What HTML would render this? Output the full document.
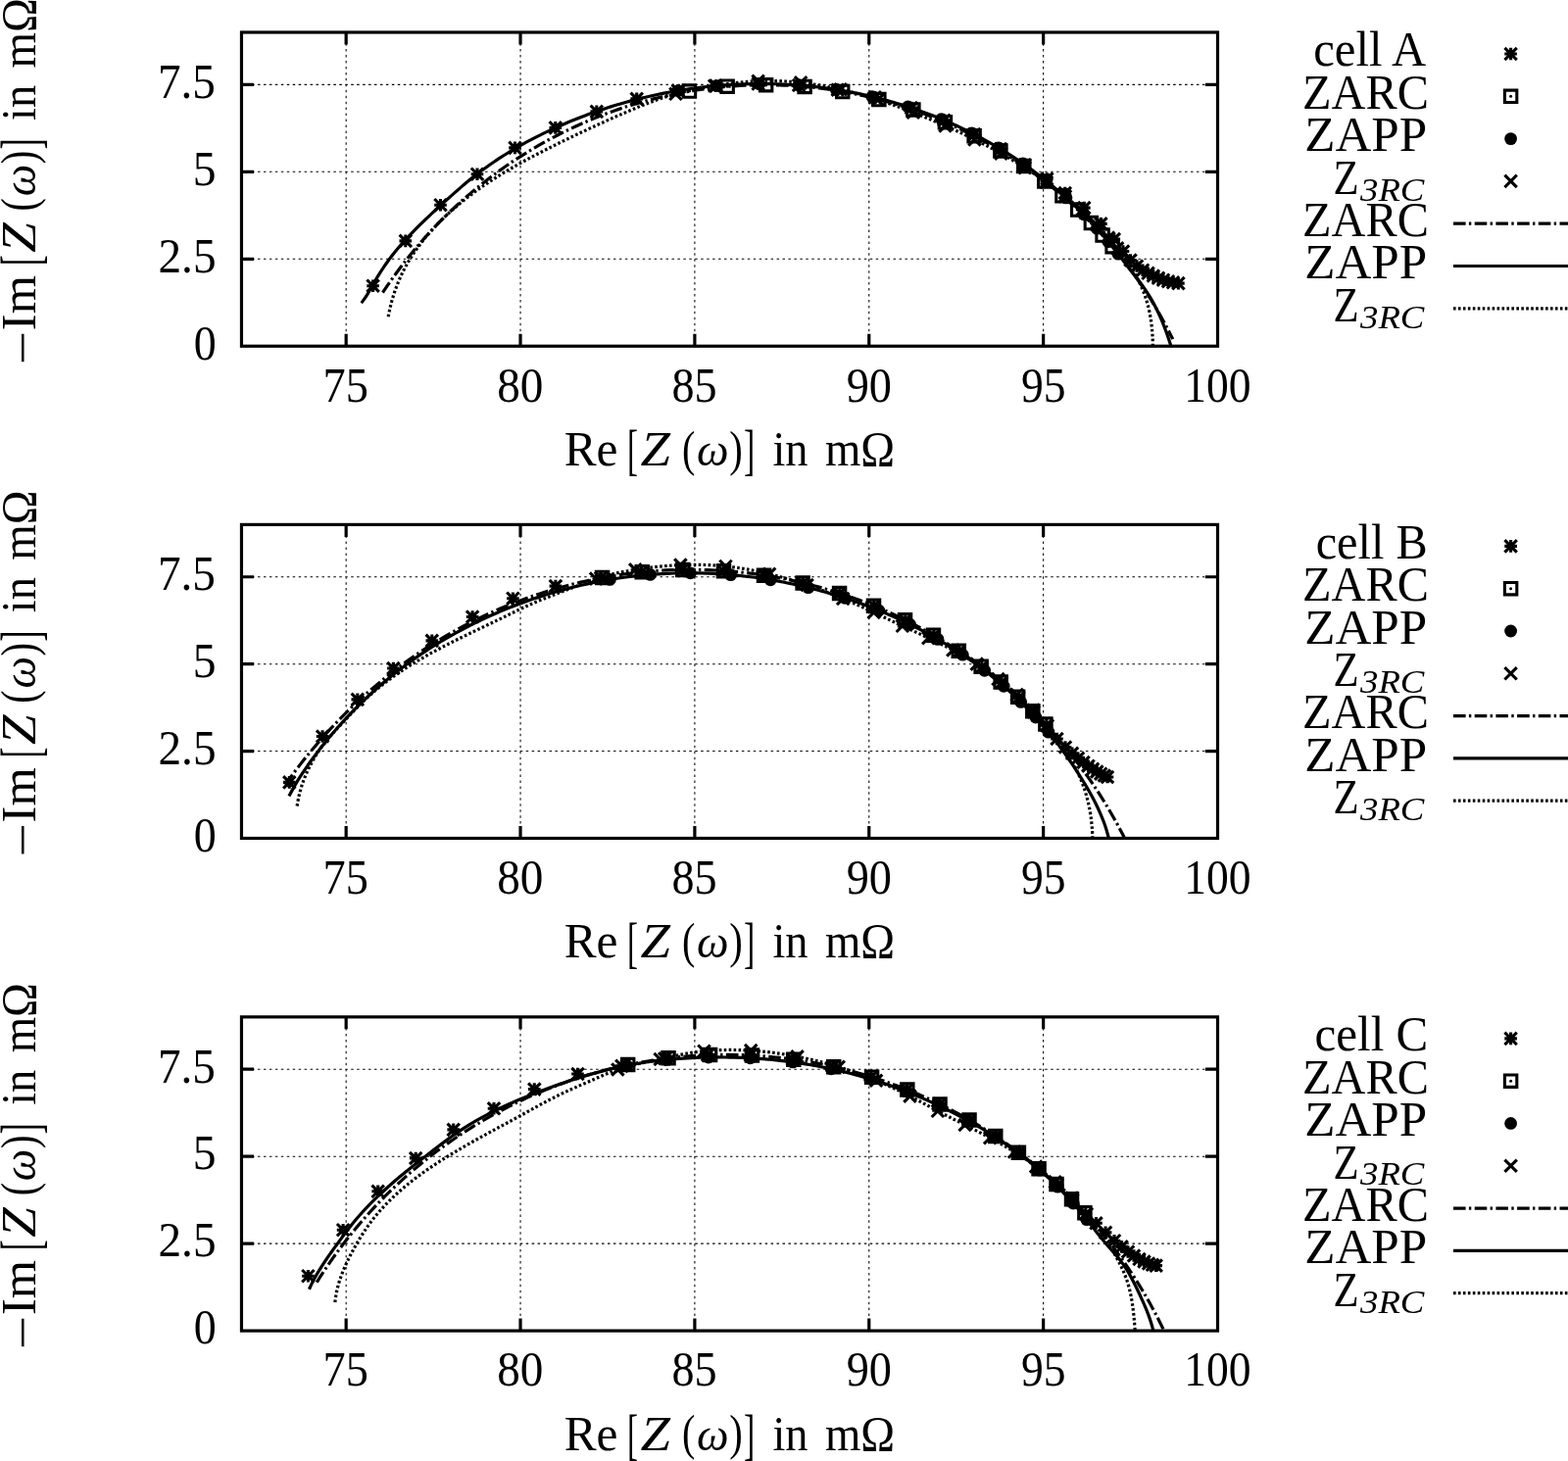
<!DOCTYPE html>
<html lang="en"><head><meta charset="utf-8"><title>Nyquist plots: cells A, B, C</title>
<style>html,body{margin:0;padding:0;background:#fff}body{width:1600px;height:1491px;overflow:hidden}svg{display:block}text{font-family:"Liberation Serif","DejaVu Serif",serif;fill:#000}.i{font-style:italic}.g{stroke:#000;stroke-width:1.05;stroke-dasharray:2.5 3.45;fill:none}.l{stroke:#000;stroke-width:3.2;fill:none}.m{stroke:#000;stroke-width:3.1;fill:none}.dd{stroke-dasharray:12.6 3.3 2.4 3.4}.dt{stroke-dasharray:2.6 2.35}</style></head><body>
<svg width="1600" height="1491" viewBox="0 0 1600 1491" role="img" aria-label="Nyquist plots of cell A, cell B and cell C with ZARC, ZAPP and Z3RC model fits">
<rect width="1600" height="1491" fill="#fff"/>
<g id="panelA">
<path class="g" d="M353.17 32.25V353.25M531.04 32.25V353.25M708.9 32.25V353.25M886.77 32.25V353.25M1064.63 32.25V353.25M245.15 264.29H1242.5M245.15 175.33H1242.5M245.15 86.38H1242.5"/>
<path class="l" d="M353.17 353.25v-12.5M353.17 33v12.5M531.04 353.25v-12.5M531.04 33v12.5M708.9 353.25v-12.5M708.9 33v12.5M886.77 353.25v-12.5M886.77 33v12.5M1064.63 353.25v-12.5M1064.63 33v12.5M246.45 264.29h12.6M1242.5 264.29h-12.6M246.45 175.33h12.6M1242.5 175.33h-12.6M246.45 86.38h12.6M1242.5 86.38h-12.6"/>
<path class="m" d="M374.4 285.5l12.4 12.4M374.4 297.9l12.4 -12.4M374.3 291.7h12.6M380.6 285.4v12.6M407.6 239.7l12.4 12.4M407.6 252.1l12.4 -12.4M407.5 245.9h12.6M413.8 239.6v12.6M443.3 203l12.4 12.4M443.3 215.4l12.4 -12.4M443.2 209.2h12.6M449.5 202.9v12.6M480.8 171.5l12.4 12.4M480.8 183.9l12.4 -12.4M480.7 177.7h12.6M487 171.4v12.6M519.3 144.7l12.4 12.4M519.3 157.1l12.4 -12.4M519.2 150.9h12.6M525.5 144.6v12.6M560.6 124.2l12.4 12.4M560.6 136.6l12.4 -12.4M560.5 130.4h12.6M566.8 124.1v12.6M602.6 107.7l12.4 12.4M602.6 120.1l12.4 -12.4M602.5 113.9h12.6M608.8 107.6v12.6M643.5 94.7l12.4 12.4M643.5 107.1l12.4 -12.4M643.4 100.9h12.6M649.7 94.6v12.6M685.63 86.35l12.4 12.4M685.63 98.75l12.4 -12.4M685.53 92.55h12.6M691.83 86.25v12.6M724.45 81.39l12.4 12.4M724.45 93.79l12.4 -12.4M724.35 87.59h12.6M730.65 81.29v12.6M767.42 79.33l12.4 12.4M767.42 91.73l12.4 -12.4M767.32 85.53h12.6M773.62 79.23v12.6M808.87 80.81l12.4 12.4M808.87 93.21l12.4 -12.4M808.77 87.01h12.6M815.07 80.71v12.6M848.51 85.51l12.4 12.4M848.51 97.91l12.4 -12.4M848.41 91.71h12.6M854.71 85.41v12.6M886.65 93.21l12.4 12.4M886.65 105.61l12.4 -12.4M886.55 99.41h12.6M892.85 93.11v12.6M923.69 103.9l12.4 12.4M923.69 116.3l12.4 -12.4M923.59 110.1h12.6M929.89 103.8v12.6M957.21 116.56l12.4 12.4M957.21 128.96l12.4 -12.4M957.11 122.76h12.6M963.41 116.46v12.6M987.92 130.9l12.4 12.4M987.92 143.3l12.4 -12.4M987.82 137.1h12.6M994.12 130.8v12.6M1014.69 145.86l12.4 12.4M1014.69 158.26l12.4 -12.4M1014.59 152.06h12.6M1020.89 145.76v12.6M1039.55 162.05l12.4 12.4M1039.55 174.45l12.4 -12.4M1039.45 168.25h12.6M1045.75 161.95v12.6M1062.1 176.45l12.4 12.4M1062.1 188.85l12.4 -12.4M1062 182.65h12.6M1068.3 176.35v12.6M1080.58 190.79l12.4 12.4M1080.58 203.19l12.4 -12.4M1080.48 196.99h12.6M1086.78 190.69v12.6M1100.1 205.9l12.4 12.4M1100.1 218.3l12.4 -12.4M1100 212.1h12.6M1106.3 205.8v12.6M1117.2 222.2l12.4 12.4M1117.2 234.6l12.4 -12.4M1117.1 228.4h12.6M1123.4 222.1v12.6M1130.6 237.8l12.4 12.4M1130.6 250.2l12.4 -12.4M1130.5 244h12.6M1136.8 237.7v12.6M1139.8 250.3l12.4 12.4M1139.8 262.7l12.4 -12.4M1139.7 256.5h12.6M1146 250.2v12.6M1147.3 259.3l12.4 12.4M1147.3 271.7l12.4 -12.4M1147.2 265.5h12.6M1153.5 259.2v12.6M1153.8 265.3l12.4 12.4M1153.8 277.7l12.4 -12.4M1153.7 271.5h12.6M1160 265.2v12.6M1159.8 269.5l12.4 12.4M1159.8 281.9l12.4 -12.4M1159.7 275.7h12.6M1166 269.4v12.6M1165.3 272.6l12.4 12.4M1165.3 285l12.4 -12.4M1165.2 278.8h12.6M1171.5 272.5v12.6M1170.6 275.3l12.4 12.4M1170.6 287.7l12.4 -12.4M1170.5 281.5h12.6M1176.8 275.2v12.6M1175.8 277.6l12.4 12.4M1175.8 290l12.4 -12.4M1175.7 283.8h12.6M1182 277.5v12.6M1180.8 279.5l12.4 12.4M1180.8 291.9l12.4 -12.4M1180.7 285.7h12.6M1187 279.4v12.6M1185.8 281l12.4 12.4M1185.8 293.4l12.4 -12.4M1185.7 287.2h12.6M1192 280.9v12.6M1190.8 282.1l12.4 12.4M1190.8 294.5l12.4 -12.4M1190.7 288.3h12.6M1197 282v12.6M1196.2 282.9l12.4 12.4M1196.2 295.3l12.4 -12.4M1196.1 289.1h12.6M1202.4 282.8v12.6"/>
<path class="m" d="M697.23 86.84h12.4v12.4h-12.4zM735.95 82.01h12.4v12.4h-12.4zM775.42 80.44h12.4v12.4h-12.4zM814.87 82.24h12.4v12.4h-12.4zM853.51 87.29h12.4v12.4h-12.4zM890.65 95.33h12.4v12.4h-12.4zM925.69 105.92h12.4v12.4h-12.4zM958.21 118.55h12.4v12.4h-12.4zM987.92 132.66h12.4v12.4h-12.4zM1014.69 147.72h12.4v12.4h-12.4zM1038.55 163.21h12.4v12.4h-12.4zM1059.6 178.71h12.4v12.4h-12.4zM1077.78 193.57h12.4v12.4h-12.4zM1093.55 207.83h12.4v12.4h-12.4zM1107.17 221.31h12.4v12.4h-12.4zM1118.88 233.88h12.4v12.4h-12.4zM1128.92 245.48h12.4v12.4h-12.4z"/>
<g><circle cx="703.43" cy="93.04" r="1.5"/><circle cx="742.15" cy="88.21" r="1.5"/><circle cx="781.62" cy="86.64" r="1.5"/><circle cx="821.07" cy="88.44" r="1.5"/><circle cx="859.71" cy="93.49" r="1.5"/><circle cx="896.85" cy="101.53" r="1.5"/><circle cx="931.89" cy="112.12" r="1.5"/><circle cx="964.41" cy="124.75" r="1.5"/><circle cx="994.12" cy="138.86" r="1.5"/><circle cx="1020.89" cy="153.92" r="1.5"/><circle cx="1044.75" cy="169.41" r="1.5"/><circle cx="1065.8" cy="184.91" r="1.5"/><circle cx="1083.98" cy="199.77" r="1.5"/><circle cx="1099.75" cy="214.03" r="1.5"/><circle cx="1113.37" cy="227.51" r="1.5"/><circle cx="1125.08" cy="240.08" r="1.5"/><circle cx="1135.12" cy="251.68" r="1.5"/></g>
<g><circle cx="691.83" cy="92.55" r="6.4"/><circle cx="731.15" cy="87.54" r="6.4"/><circle cx="774.62" cy="85.53" r="6.4"/><circle cx="815.07" cy="87.01" r="6.4"/><circle cx="853.31" cy="91.49" r="6.4"/><circle cx="889.95" cy="98.71" r="6.4"/><circle cx="926.49" cy="108.98" r="6.4"/><circle cx="960.66" cy="121.6" r="6.4"/><circle cx="991.52" cy="135.79" r="6.4"/><circle cx="1018.89" cy="150.86" r="6.4"/><circle cx="1043.75" cy="166.84" r="6.4"/><circle cx="1067.8" cy="184.75" r="6.4"/><circle cx="1087.98" cy="201.85" r="6.4"/><circle cx="1105.75" cy="218.81" r="6.4"/><circle cx="1119.37" cy="233.21" r="6.4"/><circle cx="1131.08" cy="246.7" r="6.4"/><circle cx="1141.12" cy="259.22" r="6.4"/></g>
<path class="m" d="M683.23 89.61l12.4 12.4M683.23 102.01l12.4 -12.4M722.95 81.39l12.4 12.4M722.95 93.79l12.4 -12.4M767.42 76.57l12.4 12.4M767.42 88.97l12.4 -12.4M810.87 78.13l12.4 12.4M810.87 90.53l12.4 -12.4M851.51 85.08l12.4 12.4M851.51 97.48l12.4 -12.4M889.65 95.66l12.4 12.4M889.65 108.06l12.4 -12.4M925.69 108.58l12.4 12.4M925.69 120.98l12.4 -12.4M958.38 122.15l12.4 12.4M958.38 134.55l12.4 -12.4M988.25 136.16l12.4 12.4M988.25 148.56l12.4 -12.4M1015.19 150.42l12.4 12.4M1015.19 162.82l12.4 -12.4M1039.55 164.93l12.4 12.4M1039.55 177.33l12.4 -12.4M1061.6 179.71l12.4 12.4M1061.6 192.11l12.4 -12.4M1080.78 194.22l12.4 12.4M1080.78 206.62l12.4 -12.4M1097.55 208.52l12.4 12.4M1097.55 220.92l12.4 -12.4M1112.17 222.55l12.4 12.4M1112.17 234.95l12.4 -12.4M1124.88 236.31l12.4 12.4M1124.88 248.71l12.4 -12.4M1133.92 247.19l12.4 12.4M1133.92 259.59l12.4 -12.4"/>
<path class="l" stroke-dasharray="12.51 3.28 2.38 3.38" d="M390.51 298.7C391.26 297.58 393.49 294.2 395 291.97C396.52 289.73 398.06 287.51 399.61 285.31C401.17 283.1 402.74 280.91 404.33 278.73C405.92 276.55 407.53 274.39 409.16 272.23C410.79 270.08 412.44 267.95 414.1 265.82C415.77 263.7 417.45 261.59 419.15 259.5C420.85 257.41 422.57 255.33 424.31 253.26C426.05 251.2 427.8 249.15 429.57 247.11C431.35 245.08 433.14 243.06 434.94 241.06C436.75 239.06 438.57 237.07 440.41 235.1C442.25 233.13 444.11 231.17 445.98 229.23C447.86 227.29 449.75 225.37 451.66 223.46C453.56 221.55 455.49 219.66 457.43 217.79C459.37 215.92 461.32 214.06 463.29 212.22C465.27 210.38 467.25 208.55 469.26 206.75C471.26 204.94 473.28 203.15 475.31 201.38C477.34 199.61 479.39 197.86 481.46 196.12C483.52 194.39 485.6 192.67 487.69 190.97C489.79 189.27 491.89 187.59 494.02 185.92C496.14 184.26 498.28 182.62 500.43 180.99C502.58 179.36 504.74 177.76 506.92 176.17C509.1 174.58 511.29 173.01 513.5 171.46C515.7 169.9 517.92 168.37 520.15 166.86C522.38 165.35 524.63 163.85 526.89 162.38C529.15 160.91 531.42 159.45 533.7 158.02C535.98 156.58 538.28 155.17 540.59 153.77C542.89 152.38 545.21 151 547.54 149.65C549.88 148.29 552.22 146.96 554.57 145.64C556.93 144.33 559.29 143.03 561.67 141.76C564.05 140.49 566.44 139.23 568.84 138C571.23 136.77 573.64 135.56 576.06 134.37C578.48 133.18 580.91 132.01 583.35 130.86C585.79 129.71 588.24 128.59 590.7 127.48C593.16 126.38 595.63 125.29 598.11 124.23C600.59 123.17 603.08 122.13 605.58 121.11C608.07 120.09 610.58 119.09 613.09 118.12C615.61 117.14 618.13 116.19 620.66 115.25C623.19 114.32 625.73 113.41 628.28 112.52C630.82 111.64 633.38 110.77 635.94 109.93C638.5 109.08 641.07 108.26 643.65 107.47C646.23 106.67 648.81 105.89 651.4 105.14C653.99 104.38 656.59 103.65 659.19 102.94C661.79 102.24 664.4 101.55 667.02 100.89C669.63 100.23 672.25 99.59 674.88 98.97C677.5 98.35 680.13 97.76 682.77 97.19C685.41 96.62 688.05 96.07 690.7 95.54C693.34 95.02 695.99 94.52 698.65 94.04C701.3 93.56 703.96 93.1 706.62 92.67C709.29 92.24 711.95 91.83 714.62 91.45C717.29 91.06 719.97 90.7 722.65 90.36C725.32 90.02 728 89.71 730.68 89.41C733.37 89.12 736.05 88.85 738.74 88.61C741.42 88.37 744.11 88.14 746.8 87.95C749.5 87.75 752.19 87.57 754.88 87.42C757.58 87.27 760.27 87.15 762.97 87.04C765.66 86.94 768.36 86.86 771.06 86.8C773.76 86.75 776.46 86.71 779.15 86.7C781.85 86.69 784.55 86.71 787.25 86.75C789.95 86.78 792.64 86.85 795.34 86.93C798.04 87.02 800.74 87.12 803.43 87.26C806.13 87.39 808.82 87.54 811.51 87.72C814.21 87.9 816.9 88.11 819.59 88.33C822.27 88.56 824.96 88.81 827.65 89.08C830.33 89.36 833.01 89.65 835.69 89.97C838.37 90.29 841.05 90.64 843.72 91C846.4 91.37 849.07 91.76 851.73 92.18C854.4 92.59 857.06 93.03 859.72 93.49C862.38 93.95 865.04 94.43 867.69 94.94C870.34 95.44 872.99 95.97 875.63 96.53C878.27 97.08 880.91 97.66 883.54 98.26C886.17 98.85 888.8 99.48 891.42 100.12C894.04 100.77 896.65 101.44 899.26 102.13C901.87 102.82 904.47 103.53 907.07 104.27C909.67 105 912.26 105.76 914.84 106.54C917.42 107.32 920 108.13 922.57 108.96C925.14 109.78 927.7 110.63 930.25 111.5C932.81 112.37 935.36 113.27 937.9 114.18C940.43 115.1 942.96 116.04 945.49 117C948.01 117.96 950.52 118.94 953.03 119.94C955.53 120.95 958.03 121.98 960.52 123.02C963.01 124.07 965.48 125.14 967.95 126.23C970.42 127.32 972.88 128.44 975.33 129.57C977.78 130.7 980.22 131.86 982.65 133.04C985.08 134.21 987.5 135.41 989.9 136.63C992.31 137.85 994.71 139.09 997.1 140.35C999.48 141.61 1001.86 142.89 1004.22 144.19C1006.59 145.5 1008.94 146.82 1011.28 148.16C1013.62 149.51 1015.95 150.87 1018.27 152.25C1020.58 153.64 1022.89 155.04 1025.18 156.47C1027.48 157.89 1029.76 159.34 1032.02 160.8C1034.29 162.27 1036.54 163.75 1038.79 165.25C1041.03 166.76 1043.26 168.28 1045.47 169.82C1047.69 171.37 1049.89 172.93 1052.07 174.51C1054.26 176.09 1056.44 177.69 1058.59 179.31C1060.75 180.93 1062.9 182.57 1065.03 184.22C1067.16 185.88 1069.28 187.56 1071.38 189.25C1073.48 190.94 1075.57 192.66 1077.64 194.39C1079.71 196.12 1081.77 197.86 1083.81 199.63C1085.85 201.4 1087.88 203.18 1089.89 204.98C1091.9 206.78 1093.89 208.6 1095.87 210.44C1097.85 212.27 1099.81 214.13 1101.75 216C1103.7 217.87 1105.63 219.76 1107.54 221.66C1109.46 223.56 1111.35 225.49 1113.23 227.42C1115.11 229.36 1116.97 231.31 1118.82 233.28C1120.66 235.25 1122.49 237.24 1124.3 239.24C1126.11 241.24 1127.9 243.26 1129.68 245.29C1131.45 247.33 1133.21 249.38 1134.95 251.44C1136.69 253.5 1138.41 255.58 1140.11 257.68C1141.82 259.77 1143.5 261.88 1145.17 264C1146.83 266.12 1148.48 268.26 1150.11 270.41C1151.74 272.57 1153.35 274.73 1154.94 276.91C1156.53 279.09 1158.1 281.29 1159.66 283.49C1161.21 285.7 1162.74 287.92 1164.25 290.16C1165.77 292.39 1167.26 294.64 1168.74 296.9C1170.21 299.16 1171.67 301.43 1173.1 303.72C1174.54 306 1175.95 308.3 1177.35 310.61C1178.74 312.92 1180.11 315.25 1181.47 317.58C1182.82 319.91 1184.16 322.26 1185.47 324.62C1186.78 326.98 1188.07 329.35 1189.35 331.73C1190.62 334.11 1191.87 336.5 1193.1 338.9C1194.33 341.3 1196.12 344.93 1196.72 346.14"/>
<path class="l" d="M368.74 309.23C369.56 308.1 372.15 304.79 373.67 302.47C375.19 300.14 376.48 297.68 377.86 295.27C379.24 292.86 380.54 290.4 381.94 287.99C383.33 285.58 384.76 283.19 386.23 280.82C387.69 278.46 389.2 276.11 390.75 273.8C392.29 271.48 393.88 269.19 395.51 266.94C397.14 264.68 398.82 262.46 400.53 260.26C402.24 258.07 404 255.91 405.78 253.77C407.57 251.64 409.39 249.53 411.24 247.45C413.09 245.37 414.97 243.32 416.88 241.29C418.78 239.26 420.71 237.26 422.66 235.27C424.6 233.28 426.57 231.32 428.55 229.38C430.54 227.43 432.54 225.5 434.54 223.59C436.55 221.67 438.58 219.78 440.6 217.89C442.63 215.99 444.67 214.12 446.71 212.25C448.75 210.37 450.79 208.51 452.84 206.65C454.89 204.79 456.94 202.93 459 201.09C461.06 199.24 463.12 197.4 465.2 195.58C467.28 193.76 469.37 191.95 471.47 190.15C473.58 188.36 475.69 186.58 477.83 184.83C479.97 183.08 482.12 181.34 484.29 179.63C486.46 177.92 488.66 176.24 490.87 174.59C493.08 172.93 495.32 171.3 497.57 169.7C499.82 168.1 502.09 166.52 504.38 164.97C506.66 163.43 508.97 161.9 511.29 160.41C513.61 158.91 515.95 157.44 518.3 155.99C520.65 154.55 523.02 153.13 525.4 151.74C527.78 150.34 530.17 148.97 532.58 147.63C534.99 146.28 537.41 144.96 539.84 143.66C542.27 142.37 544.71 141.09 547.16 139.84C549.62 138.59 552.08 137.37 554.56 136.16C557.03 134.96 559.51 133.78 562.01 132.62C564.5 131.46 567 130.32 569.51 129.2C572.02 128.09 574.54 126.99 577.06 125.92C579.59 124.84 582.12 123.79 584.66 122.76C587.2 121.73 589.75 120.72 592.31 119.73C594.86 118.74 597.43 117.77 600 116.82C602.57 115.88 605.14 114.95 607.72 114.05C610.31 113.15 612.9 112.27 615.49 111.41C618.09 110.55 620.69 109.71 623.3 108.89C625.9 108.07 628.52 107.28 631.13 106.5C633.75 105.73 636.38 104.98 639 104.24C641.63 103.51 644.27 102.8 646.91 102.12C649.54 101.43 652.19 100.76 654.83 100.12C657.48 99.47 660.13 98.85 662.79 98.24C665.45 97.64 668.11 97.06 670.77 96.5C673.43 95.94 676.1 95.4 678.77 94.89C681.44 94.37 684.12 93.88 686.79 93.4C689.47 92.93 692.15 92.48 694.83 92.05C697.52 91.62 700.2 91.21 702.89 90.82C705.58 90.43 708.27 90.06 710.96 89.72C713.66 89.37 716.35 89.05 719.05 88.74C721.75 88.44 724.45 88.16 727.15 87.9C729.85 87.64 732.55 87.4 735.25 87.18C737.96 86.96 740.66 86.77 743.37 86.59C746.07 86.41 748.78 86.26 751.49 86.13C754.19 85.99 756.9 85.88 759.61 85.79C762.32 85.7 765.03 85.64 767.74 85.59C770.45 85.54 773.16 85.52 775.86 85.51C778.57 85.51 781.28 85.53 783.99 85.57C786.7 85.61 789.41 85.67 792.11 85.76C794.82 85.84 797.53 85.95 800.23 86.07C802.94 86.2 805.64 86.35 808.34 86.53C811.05 86.7 813.75 86.89 816.45 87.11C819.14 87.32 821.84 87.56 824.54 87.82C827.23 88.08 829.93 88.37 832.62 88.67C835.31 88.98 837.99 89.31 840.68 89.66C843.36 90.01 846.05 90.38 848.72 90.77C851.4 91.17 854.08 91.59 856.75 92.02C859.42 92.46 862.09 92.93 864.76 93.41C867.42 93.9 870.08 94.4 872.74 94.93C875.39 95.46 878.04 96.01 880.69 96.59C883.34 97.16 885.98 97.76 888.61 98.38C891.25 99 893.88 99.64 896.51 100.31C899.13 100.97 901.75 101.66 904.37 102.37C906.98 103.08 909.59 103.81 912.19 104.57C914.79 105.32 917.39 106.1 919.98 106.9C922.57 107.7 925.15 108.52 927.72 109.37C930.3 110.21 932.86 111.08 935.42 111.97C937.98 112.86 940.54 113.77 943.08 114.71C945.62 115.65 948.16 116.6 950.69 117.58C953.21 118.56 955.73 119.57 958.24 120.59C960.75 121.62 963.25 122.66 965.74 123.73C968.23 124.8 970.71 125.89 973.18 127.01C975.66 128.12 978.12 129.26 980.57 130.41C983.02 131.57 985.46 132.75 987.89 133.96C990.32 135.16 992.74 136.38 995.15 137.63C997.56 138.87 999.96 140.14 1002.34 141.43C1004.73 142.72 1007.1 144.03 1009.46 145.36C1011.82 146.7 1014.17 148.05 1016.51 149.43C1018.84 150.8 1021.17 152.2 1023.48 153.62C1025.79 155.04 1028.09 156.48 1030.37 157.94C1032.66 159.4 1034.93 160.88 1037.18 162.38C1039.44 163.89 1041.68 165.41 1043.91 166.95C1046.14 168.5 1048.36 170.06 1050.56 171.65C1052.76 173.23 1054.94 174.84 1057.11 176.46C1059.28 178.09 1061.44 179.73 1063.57 181.4C1065.71 183.06 1067.84 184.75 1069.95 186.45C1072.05 188.15 1074.15 189.88 1076.22 191.62C1078.3 193.36 1080.36 195.12 1082.4 196.9C1084.44 198.68 1086.47 200.48 1088.48 202.3C1090.49 204.11 1092.48 205.95 1094.45 207.8C1096.43 209.66 1098.38 211.53 1100.32 213.42C1102.26 215.31 1104.18 217.22 1106.09 219.14C1107.99 221.07 1109.88 223.01 1111.74 224.97C1113.61 226.93 1115.46 228.91 1117.29 230.9C1119.12 232.89 1120.93 234.9 1122.72 236.93C1124.51 238.96 1126.29 241 1128.04 243.06C1129.79 245.12 1131.52 247.19 1133.24 249.29C1134.95 251.38 1136.65 253.48 1138.32 255.61C1139.99 257.73 1141.65 259.87 1143.28 262.02C1144.92 264.17 1146.51 266.35 1148.13 268.51C1149.74 270.67 1151.33 272.86 1152.97 275.01C1154.6 277.15 1156.28 279.27 1157.95 281.4C1159.62 283.52 1161.35 285.61 1162.99 287.76C1164.63 289.92 1166.26 292.09 1167.8 294.31C1169.34 296.54 1170.81 298.81 1172.24 301.11C1173.66 303.41 1175.02 305.75 1176.33 308.12C1177.64 310.49 1178.9 312.89 1180.1 315.32C1181.31 317.74 1182.46 320.2 1183.57 322.67C1184.67 325.14 1185.73 327.64 1186.75 330.15C1187.77 332.66 1188.74 335.19 1189.68 337.73C1190.62 340.27 1191.51 342.83 1192.38 345.4C1193.25 347.96 1194.46 351.83 1194.88 353.11"/>
<path class="l dt" d="M396.18 323.29C396.46 321.94 397.23 317.86 397.84 315.17C398.45 312.48 399.12 309.81 399.85 307.16C400.58 304.51 401.36 301.88 402.21 299.28C403.07 296.67 403.98 294.09 404.95 291.55C405.92 289 406.96 286.47 408.05 283.99C409.15 281.5 410.31 279.04 411.52 276.62C412.74 274.2 414.02 271.81 415.35 269.46C416.69 267.11 418.08 264.79 419.51 262.5C420.95 260.22 422.45 257.97 423.98 255.75C425.52 253.53 427.11 251.35 428.73 249.2C430.36 247.05 432.03 244.94 433.74 242.85C435.45 240.77 437.2 238.72 438.99 236.7C440.77 234.68 442.59 232.69 444.45 230.73C446.3 228.77 448.18 226.84 450.1 224.95C452.01 223.05 453.95 221.18 455.92 219.34C457.89 217.5 459.89 215.69 461.92 213.91C463.94 212.13 465.99 210.38 468.06 208.65C470.13 206.93 472.22 205.23 474.33 203.56C476.44 201.89 478.58 200.25 480.73 198.64C482.88 197.02 485.06 195.43 487.24 193.87C489.43 192.3 491.64 190.76 493.85 189.25C496.07 187.73 498.31 186.24 500.55 184.77C502.8 183.3 505.06 181.86 507.33 180.44C509.6 179.01 511.89 177.61 514.18 176.23C516.47 174.84 518.77 173.48 521.08 172.13C523.39 170.79 525.71 169.46 528.04 168.15C530.36 166.84 532.7 165.55 535.04 164.28C537.38 163 539.72 161.74 542.07 160.49C544.42 159.24 546.78 158 549.14 156.78C551.5 155.55 553.86 154.34 556.23 153.14C558.59 151.93 560.96 150.74 563.33 149.56C565.71 148.37 568.08 147.19 570.46 146.02C572.83 144.85 575.21 143.69 577.6 142.53C579.98 141.37 582.36 140.22 584.75 139.08C587.14 137.93 589.53 136.79 591.93 135.66C594.32 134.53 596.72 133.41 599.12 132.29C601.53 131.17 603.93 130.06 606.35 128.95C608.76 127.84 611.17 126.74 613.59 125.65C616.01 124.55 618.44 123.46 620.87 122.38C623.3 121.29 625.74 120.22 628.18 119.14C630.62 118.07 633.07 117 635.52 115.94C637.97 114.88 640.43 113.82 642.9 112.77C645.37 111.73 647.84 110.68 650.32 109.66C652.8 108.63 655.3 107.61 657.8 106.62C660.3 105.63 662.82 104.65 665.34 103.71C667.87 102.76 670.41 101.84 672.96 100.95C675.51 100.07 678.07 99.21 680.65 98.39C683.22 97.58 685.81 96.8 688.42 96.07C691.02 95.34 693.63 94.66 696.26 94.01C698.88 93.36 701.52 92.76 704.16 92.18C706.8 91.61 709.46 91.07 712.11 90.56C714.77 90.04 717.43 89.56 720.1 89.09C722.77 88.62 725.44 88.18 728.12 87.75C730.79 87.32 733.47 86.9 736.16 86.51C738.84 86.11 741.53 85.73 744.22 85.38C746.92 85.03 749.61 84.69 752.31 84.4C755.02 84.1 757.72 83.82 760.43 83.59C763.14 83.36 765.85 83.15 768.57 82.99C771.29 82.83 774.01 82.71 776.72 82.63C779.44 82.55 782.17 82.51 784.89 82.51C787.61 82.51 790.33 82.56 793.05 82.64C795.77 82.72 798.49 82.84 801.2 82.99C803.92 83.15 806.64 83.35 809.35 83.58C812.06 83.8 814.76 84.07 817.47 84.37C820.17 84.67 822.87 85.01 825.56 85.37C828.26 85.74 830.95 86.14 833.63 86.57C836.31 87 838.99 87.47 841.66 87.96C844.34 88.45 847 88.97 849.66 89.52C852.32 90.07 854.97 90.65 857.61 91.25C860.26 91.86 862.89 92.49 865.52 93.15C868.15 93.8 870.77 94.48 873.39 95.19C876 95.89 878.61 96.62 881.2 97.37C883.8 98.12 886.39 98.9 888.98 99.69C891.56 100.48 894.13 101.29 896.7 102.13C899.26 102.96 901.82 103.81 904.37 104.68C906.93 105.55 909.47 106.43 912.01 107.34C914.54 108.24 917.07 109.16 919.59 110.09C922.11 111.02 924.63 111.97 927.14 112.93C929.64 113.89 932.15 114.87 934.64 115.85C937.14 116.84 939.63 117.83 942.11 118.84C944.6 119.85 947.08 120.87 949.55 121.9C952.02 122.94 954.49 123.98 956.95 125.03C959.41 126.09 961.87 127.16 964.32 128.24C966.77 129.32 969.22 130.41 971.65 131.52C974.09 132.62 976.53 133.74 978.95 134.88C981.38 136.01 983.8 137.16 986.21 138.32C988.63 139.48 991.03 140.66 993.44 141.85C995.84 143.04 998.23 144.25 1000.62 145.47C1003 146.69 1005.38 147.93 1007.76 149.18C1010.13 150.44 1012.5 151.71 1014.85 152.99C1017.21 154.28 1019.56 155.58 1021.9 156.9C1024.24 158.22 1026.58 159.55 1028.9 160.9C1031.22 162.26 1033.54 163.62 1035.85 165.01C1038.15 166.4 1040.45 167.8 1042.74 169.23C1045.03 170.65 1047.3 172.09 1049.57 173.55C1051.84 175.01 1054.09 176.49 1056.34 177.99C1058.58 179.49 1060.82 181.01 1063.04 182.55C1065.25 184.08 1067.46 185.64 1069.66 187.22C1071.85 188.8 1074.03 190.4 1076.19 192.03C1078.36 193.65 1080.51 195.29 1082.64 196.96C1084.78 198.63 1086.89 200.31 1088.99 202.03C1091.09 203.74 1093.18 205.47 1095.24 207.23C1097.31 208.98 1099.35 210.76 1101.38 212.56C1103.4 214.37 1105.41 216.19 1107.4 218.04C1109.38 219.89 1111.34 221.76 1113.28 223.66C1115.23 225.55 1117.14 227.47 1119.04 229.42C1120.93 231.36 1122.8 233.33 1124.65 235.32C1126.49 237.31 1128.31 239.32 1130.1 241.36C1131.89 243.4 1133.66 245.46 1135.39 247.55C1137.13 249.64 1138.84 251.75 1140.52 253.88C1142.19 256.01 1143.84 258.17 1145.45 260.35C1147.06 262.54 1148.64 264.75 1150.16 266.99C1151.69 269.23 1153.18 271.5 1154.62 273.8C1156.05 276.11 1157.44 278.44 1158.76 280.82C1160.09 283.19 1161.36 285.6 1162.55 288.05C1163.74 290.5 1164.87 292.99 1165.92 295.52C1166.96 298.05 1167.94 300.62 1168.82 303.23C1169.7 305.84 1170.51 308.49 1171.22 311.17C1171.94 313.86 1172.57 316.58 1173.13 319.33C1173.68 322.08 1174.15 324.86 1174.56 327.65C1174.96 330.45 1175.28 333.27 1175.55 336.1C1175.81 338.94 1175.99 341.79 1176.13 344.64C1176.26 347.5 1176.3 351.8 1176.33 353.23"/>
<rect class="l" x="246.45" y="33" width="996.05" height="320.25"/>
<text><tspan x="197.86" y="366.55" font-size="50.4" textLength="22.95" lengthAdjust="spacingAndGlyphs">0</tspan></text>
<text><tspan x="161.51" y="277.59" font-size="50.4" textLength="59.02" lengthAdjust="spacingAndGlyphs">2.5</tspan></text>
<text><tspan x="196.85" y="188.63" font-size="50.4" textLength="23.78" lengthAdjust="spacingAndGlyphs">5</tspan></text>
<text><tspan x="160.96" y="99.67" font-size="50.4" textLength="58.85" lengthAdjust="spacingAndGlyphs">7.5</tspan></text>
<text><tspan x="329.53" y="409.55" font-size="50.4" textLength="46.28" lengthAdjust="spacingAndGlyphs">75</tspan></text>
<text><tspan x="507.13" y="409.55" font-size="50.4" textLength="47.18" lengthAdjust="spacingAndGlyphs">80</tspan></text>
<text><tspan x="685.55" y="409.55" font-size="50.4" textLength="46.13" lengthAdjust="spacingAndGlyphs">85</tspan></text>
<text><tspan x="863.69" y="409.55" font-size="50.4" textLength="46.22" lengthAdjust="spacingAndGlyphs">90</tspan></text>
<text><tspan x="1042.01" y="409.55" font-size="50.4" textLength="45.59" lengthAdjust="spacingAndGlyphs">95</tspan></text>
<text><tspan x="1208.3" y="409.55" font-size="50.4" textLength="68.28" lengthAdjust="spacingAndGlyphs">100</tspan></text>
<text id="xlabelA"><tspan x="575.7" y="475.05" font-size="50.4" textLength="54.79" lengthAdjust="spacingAndGlyphs">Re</tspan> <tspan x="640.03" y="478.25" font-size="56.45" textLength="11.03" lengthAdjust="spacingAndGlyphs">[</tspan><tspan x="653.56" y="475.05" font-size="50.4" textLength="30.47" lengthAdjust="spacingAndGlyphs" class="i">Z</tspan> <tspan x="695.98" y="474.55" font-size="50.4" textLength="13.35" lengthAdjust="spacingAndGlyphs">(</tspan><tspan x="711.08" y="475.05" font-size="45.86" textLength="32.59" lengthAdjust="spacingAndGlyphs" class="i">ω</tspan><tspan x="744.16" y="474.55" font-size="50.4" textLength="13.52" lengthAdjust="spacingAndGlyphs">)</tspan><tspan x="758.88" y="478.25" font-size="56.45" textLength="11.21" lengthAdjust="spacingAndGlyphs">]</tspan> <tspan x="788.46" y="475.05" font-size="50.4" textLength="36.14" lengthAdjust="spacingAndGlyphs">in</tspan> <tspan x="841.92" y="475.05" font-size="50.4" textLength="71.3" lengthAdjust="spacingAndGlyphs">mΩ</tspan></text>
<text id="ylabelA" transform="translate(36.3 370) rotate(-90)"><tspan x="-2.33" y="4" font-size="50.4" textLength="34.51" lengthAdjust="spacingAndGlyphs">−</tspan><tspan x="32.88" y="0" font-size="50.4" textLength="56.02" lengthAdjust="spacingAndGlyphs">Im</tspan> <tspan x="98.63" y="3.2" font-size="56.45" textLength="11.03" lengthAdjust="spacingAndGlyphs">[</tspan><tspan x="112.16" y="0" font-size="50.4" textLength="30.47" lengthAdjust="spacingAndGlyphs" class="i">Z</tspan> <tspan x="154.58" y="-0.5" font-size="50.4" textLength="13.35" lengthAdjust="spacingAndGlyphs">(</tspan><tspan x="169.68" y="0" font-size="45.86" textLength="32.59" lengthAdjust="spacingAndGlyphs" class="i">ω</tspan><tspan x="202.76" y="-0.5" font-size="50.4" textLength="13.52" lengthAdjust="spacingAndGlyphs">)</tspan><tspan x="217.48" y="3.2" font-size="56.45" textLength="11.21" lengthAdjust="spacingAndGlyphs">]</tspan> <tspan x="247.06" y="0" font-size="50.4" textLength="36.14" lengthAdjust="spacingAndGlyphs">in</tspan> <tspan x="300.52" y="0" font-size="50.4" textLength="71.3" lengthAdjust="spacingAndGlyphs">mΩ</tspan></text>
<g id="legendA">
<text><tspan x="1340.24" y="67.3" font-size="50.4" textLength="114.96" lengthAdjust="spacingAndGlyphs">cell A</tspan></text>
<text><tspan x="1329.08" y="110.7" font-size="50.4" textLength="128.84" lengthAdjust="spacingAndGlyphs">ZARC</tspan></text>
<text><tspan x="1331.22" y="154.1" font-size="50.4" textLength="125.02" lengthAdjust="spacingAndGlyphs">ZAPP</tspan></text>
<text><tspan x="1360.62" y="197.8" font-size="50.4" textLength="26.09" lengthAdjust="spacingAndGlyphs">Z</tspan><tspan x="1388" y="204.5" font-size="34" textLength="65.41" lengthAdjust="spacingAndGlyphs" class="i">3RC</tspan></text>
<text><tspan x="1329.08" y="240.9" font-size="50.4" textLength="128.84" lengthAdjust="spacingAndGlyphs">ZARC</tspan></text>
<text><tspan x="1331.22" y="284.3" font-size="50.4" textLength="125.02" lengthAdjust="spacingAndGlyphs">ZAPP</tspan></text>
<text><tspan x="1360.62" y="328" font-size="50.4" textLength="26.09" lengthAdjust="spacingAndGlyphs">Z</tspan><tspan x="1388" y="334.7" font-size="34" textLength="65.41" lengthAdjust="spacingAndGlyphs" class="i">3RC</tspan></text>
<path class="m" d="M1535.4 48.8l12.4 12.4M1535.4 61.2l12.4 -12.4M1535.3 55h12.6M1541.6 48.7v12.6M1535.4 92.1h12.4v12.4h-12.4zM1535.4 178.7l12.4 12.4M1535.4 191.1l12.4 -12.4"/>
<circle cx="1541.6" cy="98.3" r="1.5"/><circle cx="1541.6" cy="141.6" r="6.4"/>
<path class="l dd" d="M1483 228.2H1601"/>
<path class="l" d="M1483 271.5H1601"/>
<path class="l dt" d="M1483 314.8H1601"/>
</g>
</g>
<g id="panelB">
<path class="g" d="M353.17 534.65V855.5M531.04 534.65V855.5M708.9 534.65V855.5M886.77 534.65V855.5M1064.63 534.65V855.5M245.15 766.58H1242.5M245.15 677.67H1242.5M245.15 588.75H1242.5"/>
<path class="l" d="M353.17 855.5v-12.5M353.17 535.4v12.5M531.04 855.5v-12.5M531.04 535.4v12.5M708.9 855.5v-12.5M708.9 535.4v12.5M886.77 855.5v-12.5M886.77 535.4v12.5M1064.63 855.5v-12.5M1064.63 535.4v12.5M246.45 766.58h12.6M1242.5 766.58h-12.6M246.45 677.67h12.6M1242.5 677.67h-12.6M246.45 588.75h12.6M1242.5 588.75h-12.6"/>
<path class="m" d="M289.1 792.2l12.4 12.4M289.1 804.6l12.4 -12.4M289 798.4h12.6M295.3 792.1v12.6M322.9 745.3l12.4 12.4M322.9 757.7l12.4 -12.4M322.8 751.5h12.6M329.1 745.2v12.6M358.6 707.7l12.4 12.4M358.6 720.1l12.4 -12.4M358.5 713.9h12.6M364.8 707.6v12.6M395.2 675.8l12.4 12.4M395.2 688.2l12.4 -12.4M395.1 682h12.6M401.4 675.7v12.6M434.6 647.7l12.4 12.4M434.6 660.1l12.4 -12.4M434.5 653.9h12.6M440.8 647.6v12.6M475.9 623.3l12.4 12.4M475.9 635.7l12.4 -12.4M475.8 629.5h12.6M482.1 623.2v12.6M517.2 604.5l12.4 12.4M517.2 616.9l12.4 -12.4M517.1 610.7h12.6M523.4 604.4v12.6M560.7 591.9l12.4 12.4M560.7 604.3l12.4 -12.4M560.6 598.1h12.6M566.9 591.8v12.6M606.87 583.6l12.4 12.4M606.87 596l12.4 -12.4M606.77 589.8h12.6M613.07 583.5v12.6M648.01 577.75l12.4 12.4M648.01 590.15l12.4 -12.4M647.91 583.95h12.6M654.21 577.65v12.6M690.08 575.35l12.4 12.4M690.08 587.75l12.4 -12.4M689.98 581.55h12.6M696.28 575.25v12.6M732.29 576.53l12.4 12.4M732.29 588.93l12.4 -12.4M732.19 582.73h12.6M738.49 576.43v12.6M773.4 581.14l12.4 12.4M773.4 593.54l12.4 -12.4M773.3 587.34h12.6M779.6 581.04v12.6M813.07 588.94l12.4 12.4M813.07 601.34l12.4 -12.4M812.97 595.14h12.6M819.27 588.84v12.6M850.64 599.49l12.4 12.4M850.64 611.89l12.4 -12.4M850.54 605.69h12.6M856.84 599.39v12.6M885.63 612.29l12.4 12.4M885.63 624.69l12.4 -12.4M885.53 618.49h12.6M891.83 612.19v12.6M917.71 626.74l12.4 12.4M917.71 639.14l12.4 -12.4M917.61 632.94h12.6M923.91 626.64v12.6M946.73 642.29l12.4 12.4M946.73 654.69l12.4 -12.4M946.63 648.49h12.6M952.93 642.19v12.6M972.66 658.38l12.4 12.4M972.66 670.78l12.4 -12.4M972.56 664.58h12.6M978.86 658.28v12.6M995.6 674.57l12.4 12.4M995.6 686.97l12.4 -12.4M995.5 680.77h12.6M1001.8 674.47v12.6M1015.74 690.47l12.4 12.4M1015.74 702.87l12.4 -12.4M1015.64 696.67h12.6M1021.94 690.37v12.6M1033.29 705.8l12.4 12.4M1033.29 718.2l12.4 -12.4M1033.19 712h12.6M1039.49 705.7v12.6M1048.52 720.34l12.4 12.4M1048.52 732.74l12.4 -12.4M1048.42 726.54h12.6M1054.72 720.24v12.6M1061.69 733.96l12.4 12.4M1061.69 746.36l12.4 -12.4M1061.59 740.16h12.6M1067.89 733.86v12.6M1072.3 747.8l12.4 12.4M1072.3 760.2l12.4 -12.4M1072.2 754h12.6M1078.5 747.7v12.6M1080.8 756.3l12.4 12.4M1080.8 768.7l12.4 -12.4M1080.7 762.5h12.6M1087 756.2v12.6M1087.8 762.6l12.4 12.4M1087.8 775l12.4 -12.4M1087.7 768.8h12.6M1094 762.5v12.6M1093.8 767.6l12.4 12.4M1093.8 780l12.4 -12.4M1093.7 773.8h12.6M1100 767.5v12.6M1099.3 771.8l12.4 12.4M1099.3 784.2l12.4 -12.4M1099.2 778h12.6M1105.5 771.7v12.6M1104.3 775.5l12.4 12.4M1104.3 787.9l12.4 -12.4M1104.2 781.7h12.6M1110.5 775.4v12.6M1108.8 778.6l12.4 12.4M1108.8 791l12.4 -12.4M1108.7 784.8h12.6M1115 778.5v12.6M1113.1 781.3l12.4 12.4M1113.1 793.7l12.4 -12.4M1113 787.5h12.6M1119.3 781.2v12.6M1117 783.5l12.4 12.4M1117 795.9l12.4 -12.4M1116.9 789.7h12.6M1123.2 783.4v12.6M1120.6 785.3l12.4 12.4M1120.6 797.7l12.4 -12.4M1120.5 791.5h12.6M1126.8 785.2v12.6M1123.8 786.8l12.4 12.4M1123.8 799.2l12.4 -12.4M1123.7 793h12.6M1130 786.7v12.6"/>
<path class="m" d="M608.37 583.32h12.4v12.4h-12.4zM649.01 577.66h12.4v12.4h-12.4zM690.58 575.35h12.4v12.4h-12.4zM732.29 576.53h12.4v12.4h-12.4zM773.32 581.13h12.4v12.4h-12.4zM812.9 588.9h12.4v12.4h-12.4zM850.39 599.41h12.4v12.4h-12.4zM885.3 612.15h12.4v12.4h-12.4zM917.3 626.54h12.4v12.4h-12.4zM946.23 642h12.4v12.4h-12.4zM972.07 658h12.4v12.4h-12.4zM994.93 674.07h12.4v12.4h-12.4zM1014.99 689.85h12.4v12.4h-12.4zM1032.46 705.04h12.4v12.4h-12.4zM1047.61 719.43h12.4v12.4h-12.4zM1060.69 732.89h12.4v12.4h-12.4z"/>
<g><circle cx="614.57" cy="589.52" r="1.5"/><circle cx="655.21" cy="583.86" r="1.5"/><circle cx="696.78" cy="581.55" r="1.5"/><circle cx="738.49" cy="582.73" r="1.5"/><circle cx="779.52" cy="587.33" r="1.5"/><circle cx="819.1" cy="595.1" r="1.5"/><circle cx="856.59" cy="605.61" r="1.5"/><circle cx="891.5" cy="618.35" r="1.5"/><circle cx="923.5" cy="632.74" r="1.5"/><circle cx="952.43" cy="648.2" r="1.5"/><circle cx="978.27" cy="664.2" r="1.5"/><circle cx="1001.13" cy="680.27" r="1.5"/><circle cx="1021.19" cy="696.05" r="1.5"/><circle cx="1038.66" cy="711.24" r="1.5"/><circle cx="1053.81" cy="725.63" r="1.5"/><circle cx="1066.89" cy="739.09" r="1.5"/></g>
<g><circle cx="622.37" cy="591.47" r="6.4"/><circle cx="663.51" cy="586.38" r="6.4"/><circle cx="704.48" cy="584.8" r="6.4"/><circle cx="745.59" cy="586.63" r="6.4"/><circle cx="786.22" cy="591.74" r="6.4"/><circle cx="824.7" cy="599.66" r="6.4"/><circle cx="861.99" cy="610.31" r="6.4"/><circle cx="896.7" cy="622.96" r="6.4"/><circle cx="928.5" cy="637.19" r="6.4"/><circle cx="956.93" cy="652.38" r="6.4"/><circle cx="982.27" cy="668.2" r="6.4"/><circle cx="1004.63" cy="684.27" r="6.4"/><circle cx="1024.19" cy="700.27" r="6.4"/><circle cx="1041.66" cy="716.41" r="6.4"/><circle cx="1056.81" cy="732.06" r="6.4"/><circle cx="1069.89" cy="747.15" r="6.4"/></g>
<path class="m" d="M601.87 584.46l12.4 12.4M601.87 596.86l12.4 -12.4M642.01 575.16l12.4 12.4M642.01 587.56l12.4 -12.4M688.18 570.43l12.4 12.4M688.18 582.83l12.4 -12.4M734.29 571.73l12.4 12.4M734.29 584.13l12.4 -12.4M778.92 579.59l12.4 12.4M778.92 591.99l12.4 -12.4M817.4 590.87l12.4 12.4M817.4 603.27l12.4 -12.4M853.99 604.75l12.4 12.4M853.99 617.15l12.4 -12.4M885.5 618.82l12.4 12.4M885.5 631.22l12.4 -12.4M914.7 632.61l12.4 12.4M914.7 645.01l12.4 -12.4M941.13 644.9l12.4 12.4M941.13 657.3l12.4 -12.4M966.17 657.3l12.4 12.4M966.17 669.7l12.4 -12.4M990.53 671.41l12.4 12.4M990.53 683.81l12.4 -12.4M1012.29 686.84l12.4 12.4M1012.29 699.24l12.4 -12.4M1031.46 702.74l12.4 12.4M1031.46 715.14l12.4 -12.4M1048.11 718.46l12.4 12.4M1048.11 730.86l12.4 -12.4M1062.69 734.43l12.4 12.4M1062.69 746.83l12.4 -12.4"/>
<path class="l" stroke-dasharray="12.65 3.31 2.41 3.41" d="M291.04 800.83C291.89 799.65 294.41 796.1 296.12 793.76C297.84 791.42 299.57 789.09 301.32 786.78C303.06 784.47 304.83 782.17 306.61 779.88C308.39 777.6 310.2 775.32 312.01 773.07C313.83 770.81 315.67 768.57 317.52 766.34C319.37 764.11 321.24 761.9 323.13 759.7C325.01 757.5 326.92 755.32 328.84 753.15C330.76 750.99 332.69 748.83 334.65 746.7C336.6 744.56 338.57 742.44 340.56 740.34C342.55 738.23 344.56 736.15 346.58 734.07C348.6 732 350.64 729.95 352.69 727.91C354.75 725.87 356.82 723.85 358.9 721.84C360.99 719.84 363.1 717.85 365.22 715.88C367.34 713.91 369.47 711.95 371.62 710.02C373.78 708.08 375.94 706.17 378.13 704.27C380.31 702.37 382.51 700.49 384.73 698.62C386.94 696.76 389.17 694.92 391.42 693.09C393.66 691.27 395.93 689.46 398.2 687.67C400.48 685.88 402.77 684.12 405.08 682.37C407.38 680.62 409.71 678.89 412.04 677.18C414.38 675.47 416.73 673.78 419.1 672.11C421.46 670.44 423.84 668.79 426.23 667.16C428.63 665.54 431.04 663.93 433.46 662.34C435.88 660.75 438.32 659.19 440.77 657.64C443.22 656.1 445.68 654.58 448.16 653.07C450.63 651.57 453.12 650.09 455.62 648.63C458.13 647.17 460.64 645.74 463.17 644.32C465.7 642.91 468.24 641.52 470.79 640.15C473.34 638.78 475.91 637.43 478.48 636.1C481.06 634.78 483.65 633.47 486.25 632.19C488.85 630.91 491.46 629.65 494.08 628.42C496.7 627.18 499.33 625.97 501.97 624.78C504.62 623.6 507.27 622.43 509.93 621.29C512.6 620.14 515.27 619.03 517.95 617.93C520.64 616.83 523.33 615.76 526.03 614.71C528.74 613.67 531.45 612.64 534.17 611.64C536.89 610.64 539.62 609.66 542.36 608.71C545.1 607.76 547.84 606.83 550.6 605.92C553.35 605.02 556.11 604.14 558.88 603.28C561.65 602.42 564.43 601.59 567.22 600.78C570 599.98 572.8 599.19 575.6 598.43C578.39 597.68 581.2 596.94 584.01 596.23C586.82 595.52 589.64 594.84 592.47 594.18C595.29 593.52 598.12 592.89 600.96 592.28C603.8 591.67 606.64 591.08 609.48 590.52C612.33 589.96 615.18 589.43 618.04 588.92C620.89 588.41 623.75 587.93 626.62 587.47C629.48 587.01 632.35 586.57 635.23 586.17C638.1 585.76 640.98 585.38 643.85 585.02C646.73 584.66 649.62 584.33 652.5 584.02C655.39 583.72 658.28 583.43 661.17 583.18C664.06 582.92 666.95 582.69 669.85 582.49C672.74 582.29 675.64 582.11 678.54 581.95C681.43 581.8 684.33 581.67 687.23 581.57C690.14 581.47 693.04 581.39 695.94 581.34C698.84 581.29 701.74 581.27 704.65 581.27C707.55 581.27 710.45 581.3 713.35 581.35C716.26 581.41 719.16 581.48 722.06 581.59C724.96 581.69 727.86 581.82 730.76 581.98C733.66 582.13 736.55 582.31 739.45 582.52C742.34 582.73 745.24 582.96 748.13 583.22C751.02 583.48 753.91 583.76 756.8 584.07C759.68 584.38 762.57 584.71 765.45 585.07C768.33 585.43 771.21 585.82 774.08 586.23C776.95 586.64 779.82 587.08 782.69 587.54C785.55 588 788.42 588.49 791.27 589C794.13 589.51 796.98 590.05 799.83 590.61C802.68 591.17 805.52 591.76 808.36 592.38C811.2 592.99 814.03 593.63 816.86 594.29C819.68 594.95 822.5 595.64 825.32 596.35C828.13 597.06 830.94 597.8 833.74 598.56C836.54 599.33 839.33 600.11 842.12 600.92C844.91 601.73 847.69 602.57 850.46 603.43C853.23 604.29 856 605.17 858.75 606.08C861.51 606.99 864.26 607.92 867 608.88C869.74 609.84 872.47 610.82 875.19 611.83C877.92 612.83 880.63 613.86 883.33 614.91C886.04 615.97 888.73 617.04 891.42 618.14C894.11 619.24 896.78 620.37 899.45 621.51C902.11 622.66 904.77 623.83 907.41 625.02C910.06 626.22 912.69 627.44 915.32 628.68C917.94 629.91 920.55 631.18 923.16 632.46C925.76 633.75 928.35 635.06 930.92 636.39C933.5 637.72 936.07 639.07 938.62 640.45C941.18 641.83 943.72 643.23 946.25 644.65C948.78 646.07 951.3 647.51 953.8 648.97C956.31 650.44 958.8 651.93 961.28 653.43C963.76 654.94 966.22 656.47 968.67 658.02C971.12 659.57 973.56 661.15 975.99 662.74C978.41 664.33 980.82 665.95 983.21 667.59C985.61 669.22 987.99 670.88 990.36 672.56C992.72 674.23 995.08 675.93 997.41 677.65C999.75 679.37 1002.07 681.11 1004.38 682.87C1006.68 684.63 1008.97 686.41 1011.25 688.21C1013.52 690.01 1015.78 691.82 1018.03 693.66C1020.27 695.5 1022.5 697.36 1024.71 699.24C1026.92 701.11 1029.11 703.01 1031.29 704.93C1033.47 706.84 1035.63 708.78 1037.77 710.73C1039.91 712.68 1042.04 714.65 1044.15 716.64C1046.26 718.63 1048.35 720.64 1050.43 722.67C1052.5 724.7 1054.56 726.74 1056.59 728.8C1058.63 730.86 1060.65 732.94 1062.66 735.04C1064.66 737.14 1066.64 739.25 1068.61 741.39C1070.57 743.52 1072.52 745.67 1074.45 747.83C1076.37 750 1078.28 752.18 1080.17 754.38C1082.06 756.58 1083.93 758.79 1085.78 761.02C1087.64 763.25 1089.47 765.5 1091.28 767.77C1093.09 770.03 1094.88 772.31 1096.66 774.6C1098.43 776.89 1100.18 779.2 1101.91 781.53C1103.65 783.85 1105.36 786.19 1107.05 788.55C1108.74 790.9 1110.41 793.27 1112.06 795.65C1113.71 798.04 1115.34 800.43 1116.95 802.84C1118.56 805.26 1120.15 807.68 1121.72 810.12C1123.28 812.56 1124.83 815.01 1126.35 817.48C1127.88 819.94 1129.38 822.42 1130.86 824.91C1132.35 827.4 1133.81 829.91 1135.24 832.43C1136.68 834.94 1138.1 837.47 1139.49 840.01C1140.89 842.55 1142.26 845.11 1143.61 847.67C1144.96 850.24 1146.93 854.12 1147.59 855.4"/>
<path class="l" d="M295 812.43C295.67 811.17 297.64 807.36 299.04 804.86C300.43 802.36 301.87 799.89 303.35 797.45C304.83 795 306.36 792.58 307.92 790.18C309.48 787.78 311.07 785.41 312.7 783.06C314.32 780.7 315.98 778.37 317.67 776.05C319.35 773.74 321.06 771.44 322.79 769.16C324.52 766.88 326.27 764.61 328.05 762.36C329.82 760.11 331.61 757.87 333.43 755.65C335.25 753.43 337.08 751.23 338.94 749.04C340.79 746.86 342.67 744.68 344.57 742.53C346.47 740.38 348.39 738.24 350.33 736.12C352.26 734.01 354.22 731.9 356.2 729.82C358.18 727.74 360.18 725.68 362.2 723.63C364.22 721.58 366.26 719.56 368.32 717.55C370.38 715.54 372.46 713.55 374.55 711.59C376.65 709.62 378.77 707.67 380.91 705.74C383.04 703.82 385.2 701.91 387.37 700.02C389.55 698.14 391.74 696.27 393.95 694.43C396.16 692.58 398.39 690.76 400.64 688.96C402.89 687.16 405.16 685.38 407.44 683.63C409.72 681.87 412.03 680.14 414.34 678.43C416.66 676.72 419 675.03 421.35 673.36C423.7 671.7 426.07 670.06 428.45 668.44C430.84 666.82 433.24 665.22 435.65 663.64C438.06 662.07 440.49 660.52 442.94 658.99C445.38 657.46 447.84 655.96 450.31 654.47C452.78 652.99 455.27 651.53 457.77 650.1C460.27 648.66 462.78 647.25 465.31 645.86C467.83 644.47 470.37 643.1 472.92 641.76C475.47 640.41 478.03 639.09 480.61 637.79C483.18 636.5 485.77 635.22 488.36 633.97C490.96 632.72 493.57 631.49 496.19 630.29C498.81 629.08 501.43 627.9 504.07 626.74C506.71 625.58 509.36 624.45 512.02 623.33C514.68 622.22 517.35 621.13 520.03 620.06C522.7 619 525.39 617.95 528.09 616.93C530.78 615.91 533.49 614.91 536.2 613.94C538.91 612.96 541.63 612.01 544.36 611.09C547.09 610.16 549.83 609.26 552.57 608.38C555.31 607.5 558.07 606.64 560.83 605.81C563.59 604.98 566.35 604.17 569.13 603.38C571.9 602.6 574.68 601.84 577.47 601.1C580.25 600.37 583.05 599.66 585.85 598.97C588.64 598.28 591.45 597.62 594.26 596.98C597.07 596.34 599.89 595.73 602.71 595.14C605.53 594.55 608.36 593.99 611.19 593.45C614.02 592.91 616.86 592.4 619.7 591.91C622.54 591.42 625.38 590.95 628.23 590.51C631.08 590.07 633.93 589.66 636.79 589.27C639.64 588.88 642.5 588.52 645.36 588.18C648.23 587.84 651.09 587.53 653.96 587.24C656.83 586.95 659.7 586.69 662.57 586.45C665.44 586.22 668.32 586 671.19 585.82C674.07 585.63 676.95 585.47 679.82 585.34C682.7 585.2 685.58 585.09 688.46 585.01C691.34 584.92 694.23 584.86 697.11 584.83C699.99 584.79 702.87 584.78 705.75 584.8C708.64 584.82 711.52 584.86 714.4 584.92C717.28 584.99 720.16 585.08 723.04 585.19C725.92 585.31 728.8 585.45 731.67 585.62C734.55 585.78 737.43 585.97 740.3 586.19C743.17 586.4 746.05 586.64 748.92 586.9C751.79 587.17 754.65 587.45 757.52 587.77C760.38 588.08 763.24 588.42 766.1 588.78C768.96 589.14 771.82 589.52 774.67 589.93C777.52 590.34 780.37 590.78 783.22 591.23C786.06 591.69 788.91 592.17 791.74 592.68C794.58 593.18 797.41 593.71 800.24 594.27C803.07 594.82 805.9 595.39 808.72 595.99C811.54 596.59 814.35 597.22 817.16 597.86C819.97 598.51 822.77 599.18 825.57 599.87C828.37 600.57 831.16 601.28 833.95 602.02C836.74 602.76 839.52 603.52 842.3 604.31C845.07 605.09 847.84 605.9 850.6 606.73C853.36 607.56 856.12 608.41 858.87 609.28C861.62 610.16 864.36 611.06 867.1 611.98C869.83 612.9 872.56 613.84 875.28 614.8C878 615.77 880.71 616.76 883.42 617.77C886.12 618.78 888.82 619.81 891.51 620.87C894.19 621.92 896.87 623 899.54 624.11C902.21 625.21 904.87 626.33 907.52 627.48C910.17 628.63 912.82 629.8 915.45 631C918.08 632.2 920.7 633.42 923.31 634.66C925.92 635.9 928.52 637.17 931.11 638.46C933.69 639.75 936.27 641.06 938.83 642.4C941.4 643.74 943.95 645.1 946.49 646.49C949.03 647.87 951.56 649.28 954.07 650.71C956.58 652.15 959.09 653.6 961.57 655.08C964.06 656.56 966.53 658.07 968.99 659.6C971.45 661.12 973.89 662.68 976.32 664.25C978.75 665.83 981.16 667.43 983.56 669.05C985.95 670.67 988.33 672.32 990.7 673.99C993.06 675.66 995.41 677.36 997.74 679.07C1000.07 680.79 1002.38 682.53 1004.68 684.3C1006.97 686.06 1009.25 687.85 1011.51 689.66C1013.76 691.48 1016 693.31 1018.22 695.17C1020.44 697.03 1022.64 698.91 1024.82 700.81C1027 702.71 1029.16 704.64 1031.3 706.59C1033.43 708.54 1035.55 710.51 1037.65 712.5C1039.74 714.5 1041.81 716.52 1043.86 718.55C1045.92 720.59 1047.94 722.65 1049.95 724.73C1051.95 726.82 1053.93 728.92 1055.89 731.05C1057.85 733.17 1059.78 735.32 1061.69 737.48C1063.6 739.65 1065.48 741.84 1067.34 744.05C1069.2 746.26 1071.03 748.49 1072.83 750.74C1074.64 752.99 1076.42 755.26 1078.17 757.55C1079.92 759.83 1081.65 762.15 1083.35 764.47C1085.05 766.8 1086.72 769.14 1088.37 771.5C1090.02 773.85 1091.65 776.22 1093.26 778.61C1094.87 780.99 1096.46 783.38 1098.03 785.79C1099.6 788.19 1101.15 790.6 1102.68 793.03C1104.2 795.46 1105.71 797.9 1107.18 800.36C1108.65 802.82 1110.1 805.29 1111.5 807.79C1112.91 810.28 1114.29 812.79 1115.62 815.32C1116.95 817.86 1118.25 820.41 1119.49 822.99C1120.73 825.57 1121.93 828.17 1123.06 830.8C1124.19 833.44 1125.28 836.09 1126.27 838.78C1127.27 841.48 1128.21 844.2 1129.06 846.95C1129.91 849.71 1130.97 853.93 1131.35 855.32"/>
<path class="l dt" d="M303.1 822.64C303.37 821.16 304.09 816.68 304.73 813.76C305.36 810.85 306.1 807.97 306.93 805.14C307.75 802.31 308.67 799.52 309.67 796.77C310.67 794.03 311.77 791.33 312.93 788.67C314.1 786.02 315.36 783.41 316.68 780.85C318.01 778.29 319.41 775.77 320.89 773.31C322.37 770.85 323.92 768.44 325.54 766.09C327.17 763.73 328.88 761.43 330.63 759.18C332.38 756.92 334.2 754.72 336.04 752.54C337.89 750.36 339.79 748.22 341.7 746.1C343.61 743.98 345.56 741.89 347.51 739.79C349.45 737.7 351.41 735.62 353.38 733.54C355.34 731.46 357.3 729.38 359.29 727.32C361.27 725.26 363.26 723.21 365.28 721.18C367.3 719.15 369.34 717.14 371.41 715.16C373.48 713.19 375.57 711.23 377.7 709.32C379.84 707.41 382 705.53 384.2 703.7C386.39 701.86 388.62 700.06 390.88 698.29C393.13 696.53 395.41 694.8 397.72 693.1C400.02 691.41 402.36 689.75 404.71 688.12C407.06 686.48 409.44 684.89 411.83 683.32C414.22 681.75 416.63 680.21 419.06 678.7C421.48 677.19 423.93 675.71 426.38 674.25C428.84 672.79 431.31 671.36 433.79 669.95C436.27 668.54 438.76 667.16 441.26 665.79C443.76 664.42 446.28 663.08 448.79 661.75C451.31 660.42 453.84 659.11 456.37 657.82C458.9 656.52 461.43 655.24 463.97 653.98C466.51 652.71 469.06 651.45 471.6 650.21C474.15 648.96 476.7 647.72 479.25 646.49C481.8 645.26 484.35 644.03 486.9 642.81C489.45 641.59 492.01 640.37 494.56 639.15C497.11 637.93 499.67 636.72 502.22 635.49C504.77 634.27 507.33 633.05 509.88 631.82C512.43 630.59 514.98 629.35 517.54 628.1C520.09 626.86 522.64 625.6 525.2 624.36C527.76 623.12 530.33 621.87 532.91 620.66C535.49 619.45 538.08 618.24 540.68 617.08C543.29 615.91 545.91 614.79 548.55 613.68C551.18 612.57 553.84 611.5 556.49 610.44C559.15 609.38 561.82 608.34 564.49 607.3C567.16 606.26 569.85 605.24 572.53 604.2C575.21 603.17 577.9 602.14 580.59 601.09C583.28 600.03 585.97 598.96 588.67 597.9C591.37 596.83 594.07 595.73 596.8 594.69C599.52 593.65 602.25 592.61 605 591.65C607.75 590.7 610.53 589.79 613.32 588.96C616.11 588.12 618.92 587.36 621.74 586.65C624.56 585.93 627.39 585.28 630.24 584.66C633.08 584.05 635.94 583.49 638.8 582.96C641.66 582.43 644.53 581.94 647.41 581.48C650.28 581.01 653.16 580.58 656.05 580.17C658.94 579.77 661.83 579.39 664.72 579.04C667.62 578.69 670.52 578.37 673.42 578.09C676.32 577.8 679.23 577.55 682.14 577.33C685.05 577.11 687.97 576.92 690.88 576.77C693.8 576.62 696.72 576.5 699.64 576.42C702.56 576.35 705.48 576.3 708.4 576.3C711.32 576.3 714.24 576.33 717.16 576.41C720.08 576.48 723 576.6 725.92 576.75C728.84 576.91 731.75 577.11 734.66 577.35C737.57 577.6 740.48 577.88 743.38 578.21C746.28 578.54 749.18 578.92 752.07 579.33C754.96 579.74 757.85 580.2 760.72 580.69C763.6 581.18 766.47 581.72 769.33 582.28C772.19 582.85 775.05 583.45 777.89 584.09C780.74 584.72 783.57 585.39 786.4 586.09C789.23 586.79 792.05 587.52 794.85 588.28C797.66 589.04 800.46 589.82 803.25 590.63C806.04 591.45 808.82 592.28 811.6 593.14C814.37 594.01 817.13 594.89 819.88 595.8C822.63 596.71 825.37 597.65 828.1 598.6C830.83 599.56 833.56 600.53 836.27 601.53C838.98 602.53 841.68 603.55 844.37 604.58C847.06 605.62 849.74 606.68 852.41 607.75C855.09 608.83 857.75 609.92 860.4 611.03C863.05 612.14 865.7 613.27 868.33 614.41C870.96 615.56 873.59 616.72 876.2 617.89C878.82 619.06 881.42 620.25 884.02 621.45C886.63 622.64 889.22 623.85 891.81 625.07C894.39 626.28 896.97 627.5 899.56 628.72C902.14 629.94 904.71 631.17 907.29 632.39C909.87 633.61 912.44 634.84 915.02 636.05C917.6 637.27 920.18 638.48 922.77 639.69C925.36 640.89 927.95 642.09 930.54 643.29C933.14 644.49 935.73 645.69 938.33 646.89C940.93 648.1 943.53 649.3 946.12 650.52C948.72 651.75 951.32 652.97 953.91 654.22C956.5 655.47 959.09 656.72 961.67 658.01C964.25 659.29 966.82 660.59 969.38 661.91C971.94 663.24 974.5 664.59 977.03 665.97C979.57 667.35 982.1 668.76 984.6 670.2C987.11 671.65 989.6 673.12 992.06 674.64C994.52 676.15 996.97 677.71 999.38 679.3C1001.8 680.89 1004.19 682.52 1006.56 684.18C1008.92 685.85 1011.26 687.55 1013.58 689.28C1015.91 691.01 1018.2 692.78 1020.48 694.57C1022.75 696.35 1025.01 698.17 1027.24 700.02C1029.48 701.86 1031.69 703.72 1033.89 705.61C1036.08 707.51 1038.26 709.42 1040.41 711.36C1042.56 713.3 1044.69 715.27 1046.79 717.26C1048.89 719.25 1050.97 721.27 1053.01 723.33C1055.06 725.38 1057.08 727.46 1059.06 729.57C1061.05 731.68 1063 733.81 1064.92 735.99C1066.84 738.16 1068.72 740.36 1070.56 742.59C1072.4 744.83 1074.21 747.09 1075.97 749.39C1077.73 751.69 1079.45 754.03 1081.12 756.39C1082.8 758.76 1084.43 761.15 1086 763.59C1087.58 766.02 1089.11 768.48 1090.59 770.98C1092.06 773.48 1093.49 776.01 1094.86 778.57C1096.22 781.13 1097.54 783.73 1098.8 786.35C1100.05 788.98 1101.25 791.63 1102.38 794.33C1103.51 797.02 1104.58 799.74 1105.56 802.51C1106.54 805.27 1107.45 808.07 1108.27 810.91C1109.1 813.74 1109.85 816.62 1110.51 819.51C1111.18 822.41 1111.77 825.34 1112.29 828.3C1112.8 831.25 1113.23 834.23 1113.6 837.23C1113.96 840.22 1114.24 843.24 1114.45 846.27C1114.66 849.31 1114.8 853.89 1114.87 855.42"/>
<rect class="l" x="246.45" y="535.4" width="996.05" height="320.1"/>
<text><tspan x="197.86" y="868.8" font-size="50.4" textLength="22.95" lengthAdjust="spacingAndGlyphs">0</tspan></text>
<text><tspan x="161.51" y="779.88" font-size="50.4" textLength="59.02" lengthAdjust="spacingAndGlyphs">2.5</tspan></text>
<text><tspan x="196.85" y="690.97" font-size="50.4" textLength="23.78" lengthAdjust="spacingAndGlyphs">5</tspan></text>
<text><tspan x="160.96" y="602.05" font-size="50.4" textLength="58.85" lengthAdjust="spacingAndGlyphs">7.5</tspan></text>
<text><tspan x="329.53" y="911.8" font-size="50.4" textLength="46.28" lengthAdjust="spacingAndGlyphs">75</tspan></text>
<text><tspan x="507.13" y="911.8" font-size="50.4" textLength="47.18" lengthAdjust="spacingAndGlyphs">80</tspan></text>
<text><tspan x="685.55" y="911.8" font-size="50.4" textLength="46.13" lengthAdjust="spacingAndGlyphs">85</tspan></text>
<text><tspan x="863.69" y="911.8" font-size="50.4" textLength="46.22" lengthAdjust="spacingAndGlyphs">90</tspan></text>
<text><tspan x="1042.01" y="911.8" font-size="50.4" textLength="45.59" lengthAdjust="spacingAndGlyphs">95</tspan></text>
<text><tspan x="1208.3" y="911.8" font-size="50.4" textLength="68.28" lengthAdjust="spacingAndGlyphs">100</tspan></text>
<text id="xlabelB"><tspan x="575.7" y="977.3" font-size="50.4" textLength="54.79" lengthAdjust="spacingAndGlyphs">Re</tspan> <tspan x="640.03" y="980.5" font-size="56.45" textLength="11.03" lengthAdjust="spacingAndGlyphs">[</tspan><tspan x="653.56" y="977.3" font-size="50.4" textLength="30.47" lengthAdjust="spacingAndGlyphs" class="i">Z</tspan> <tspan x="695.98" y="976.8" font-size="50.4" textLength="13.35" lengthAdjust="spacingAndGlyphs">(</tspan><tspan x="711.08" y="977.3" font-size="45.86" textLength="32.59" lengthAdjust="spacingAndGlyphs" class="i">ω</tspan><tspan x="744.16" y="976.8" font-size="50.4" textLength="13.52" lengthAdjust="spacingAndGlyphs">)</tspan><tspan x="758.88" y="980.5" font-size="56.45" textLength="11.21" lengthAdjust="spacingAndGlyphs">]</tspan> <tspan x="788.46" y="977.3" font-size="50.4" textLength="36.14" lengthAdjust="spacingAndGlyphs">in</tspan> <tspan x="841.92" y="977.3" font-size="50.4" textLength="71.3" lengthAdjust="spacingAndGlyphs">mΩ</tspan></text>
<text id="ylabelB" transform="translate(36.3 872.25) rotate(-90)"><tspan x="-2.33" y="4" font-size="50.4" textLength="34.51" lengthAdjust="spacingAndGlyphs">−</tspan><tspan x="32.88" y="0" font-size="50.4" textLength="56.02" lengthAdjust="spacingAndGlyphs">Im</tspan> <tspan x="98.63" y="3.2" font-size="56.45" textLength="11.03" lengthAdjust="spacingAndGlyphs">[</tspan><tspan x="112.16" y="0" font-size="50.4" textLength="30.47" lengthAdjust="spacingAndGlyphs" class="i">Z</tspan> <tspan x="154.58" y="-0.5" font-size="50.4" textLength="13.35" lengthAdjust="spacingAndGlyphs">(</tspan><tspan x="169.68" y="0" font-size="45.86" textLength="32.59" lengthAdjust="spacingAndGlyphs" class="i">ω</tspan><tspan x="202.76" y="-0.5" font-size="50.4" textLength="13.52" lengthAdjust="spacingAndGlyphs">)</tspan><tspan x="217.48" y="3.2" font-size="56.45" textLength="11.21" lengthAdjust="spacingAndGlyphs">]</tspan> <tspan x="247.06" y="0" font-size="50.4" textLength="36.14" lengthAdjust="spacingAndGlyphs">in</tspan> <tspan x="300.52" y="0" font-size="50.4" textLength="71.3" lengthAdjust="spacingAndGlyphs">mΩ</tspan></text>
<g id="legendB">
<text><tspan x="1342.65" y="569.7" font-size="50.4" textLength="114.05" lengthAdjust="spacingAndGlyphs">cell B</tspan></text>
<text><tspan x="1329.08" y="613.1" font-size="50.4" textLength="128.84" lengthAdjust="spacingAndGlyphs">ZARC</tspan></text>
<text><tspan x="1331.22" y="656.5" font-size="50.4" textLength="125.02" lengthAdjust="spacingAndGlyphs">ZAPP</tspan></text>
<text><tspan x="1360.62" y="700.2" font-size="50.4" textLength="26.09" lengthAdjust="spacingAndGlyphs">Z</tspan><tspan x="1388" y="706.9" font-size="34" textLength="65.41" lengthAdjust="spacingAndGlyphs" class="i">3RC</tspan></text>
<text><tspan x="1329.08" y="743.3" font-size="50.4" textLength="128.84" lengthAdjust="spacingAndGlyphs">ZARC</tspan></text>
<text><tspan x="1331.22" y="786.7" font-size="50.4" textLength="125.02" lengthAdjust="spacingAndGlyphs">ZAPP</tspan></text>
<text><tspan x="1360.62" y="830.4" font-size="50.4" textLength="26.09" lengthAdjust="spacingAndGlyphs">Z</tspan><tspan x="1388" y="837.1" font-size="34" textLength="65.41" lengthAdjust="spacingAndGlyphs" class="i">3RC</tspan></text>
<path class="m" d="M1535.4 551.2l12.4 12.4M1535.4 563.6l12.4 -12.4M1535.3 557.4h12.6M1541.6 551.1v12.6M1535.4 594.5h12.4v12.4h-12.4zM1535.4 681.1l12.4 12.4M1535.4 693.5l12.4 -12.4"/>
<circle cx="1541.6" cy="600.7" r="1.5"/><circle cx="1541.6" cy="644" r="6.4"/>
<path class="l dd" d="M1483 730.6H1601"/>
<path class="l" d="M1483 773.9H1601"/>
<path class="l dt" d="M1483 817.2H1601"/>
</g>
</g>
<g id="panelC">
<path class="g" d="M353.17 1037.1V1358.1M531.04 1037.1V1358.1M708.9 1037.1V1358.1M886.77 1037.1V1358.1M1064.63 1037.1V1358.1M245.15 1269.14H1242.5M245.15 1180.18H1242.5M245.15 1091.22H1242.5"/>
<path class="l" d="M353.17 1358.1v-12.5M353.17 1037.85v12.5M531.04 1358.1v-12.5M531.04 1037.85v12.5M708.9 1358.1v-12.5M708.9 1037.85v12.5M886.77 1358.1v-12.5M886.77 1037.85v12.5M1064.63 1358.1v-12.5M1064.63 1037.85v12.5M246.45 1269.14h12.6M1242.5 1269.14h-12.6M246.45 1180.18h12.6M1242.5 1180.18h-12.6M246.45 1091.22h12.6M1242.5 1091.22h-12.6"/>
<path class="m" d="M308.2 1296l12.4 12.4M308.2 1308.4l12.4 -12.4M308.1 1302.2h12.6M314.4 1295.9v12.6M343.9 1249l12.4 12.4M343.9 1261.4l12.4 -12.4M343.8 1255.2h12.6M350.1 1248.9v12.6M379.5 1209.6l12.4 12.4M379.5 1222l12.4 -12.4M379.4 1215.8h12.6M385.7 1209.5v12.6M418 1175.8l12.4 12.4M418 1188.2l12.4 -12.4M417.9 1182h12.6M424.2 1175.7v12.6M456.5 1146.7l12.4 12.4M456.5 1159.1l12.4 -12.4M456.4 1152.9h12.6M462.7 1146.6v12.6M497.8 1125.1l12.4 12.4M497.8 1137.5l12.4 -12.4M497.7 1131.3h12.6M504 1125v12.6M539.1 1105.4l12.4 12.4M539.1 1117.8l12.4 -12.4M539 1111.6h12.6M545.3 1105.3v12.6M583.3 1089.8l12.4 12.4M583.3 1102.2l12.4 -12.4M583.2 1096h12.6M589.5 1089.7v12.6M628.18 1081.72l12.4 12.4M628.18 1094.12l12.4 -12.4M628.08 1087.92h12.6M634.38 1081.62v12.6M672.03 1074.11l12.4 12.4M672.03 1086.51l12.4 -12.4M671.93 1080.31h12.6M678.23 1074.01v12.6M715.86 1070.49l12.4 12.4M715.86 1082.89l12.4 -12.4M715.76 1076.69h12.6M722.06 1070.39v12.6M759.48 1070.75l12.4 12.4M759.48 1083.15l12.4 -12.4M759.38 1076.95h12.6M765.68 1070.65v12.6M802.56 1074.79l12.4 12.4M802.56 1087.19l12.4 -12.4M802.46 1080.99h12.6M808.76 1074.69v12.6M843.76 1082.27l12.4 12.4M843.76 1094.67l12.4 -12.4M843.66 1088.47h12.6M849.96 1082.17v12.6M882.88 1092.79l12.4 12.4M882.88 1105.19l12.4 -12.4M882.78 1098.99h12.6M889.08 1092.69v12.6M919.35 1105.8l12.4 12.4M919.35 1118.2l12.4 -12.4M919.25 1112h12.6M925.55 1105.7v12.6M952.81 1120.69l12.4 12.4M952.81 1133.09l12.4 -12.4M952.71 1126.89h12.6M959.01 1120.59v12.6M982.95 1136.77l12.4 12.4M982.95 1149.17l12.4 -12.4M982.85 1142.97h12.6M989.15 1136.67v12.6M1009.86 1153.51l12.4 12.4M1009.86 1165.91l12.4 -12.4M1009.76 1159.71h12.6M1016.06 1153.41v12.6M1033.62 1170.4l12.4 12.4M1033.62 1182.8l12.4 -12.4M1033.52 1176.6h12.6M1039.82 1170.3v12.6M1054.43 1187.03l12.4 12.4M1054.43 1199.43l12.4 -12.4M1054.33 1193.23h12.6M1060.63 1186.93v12.6M1072.53 1203.08l12.4 12.4M1072.53 1215.48l12.4 -12.4M1072.43 1209.28h12.6M1078.73 1202.98v12.6M1088.19 1218.32l12.4 12.4M1088.19 1230.72l12.4 -12.4M1088.09 1224.52h12.6M1094.39 1218.22v12.6M1101.69 1232.61l12.4 12.4M1101.69 1245.01l12.4 -12.4M1101.59 1238.81h12.6M1107.89 1232.51v12.6M1112.3 1242.1l12.4 12.4M1112.3 1254.5l12.4 -12.4M1112.2 1248.3h12.6M1118.5 1242v12.6M1121.9 1251.7l12.4 12.4M1121.9 1264.1l12.4 -12.4M1121.8 1257.9h12.6M1128.1 1251.6v12.6M1130.8 1260l12.4 12.4M1130.8 1272.4l12.4 -12.4M1130.7 1266.2h12.6M1137 1259.9v12.6M1138.4 1266.2l12.4 12.4M1138.4 1278.6l12.4 -12.4M1138.3 1272.4h12.6M1144.6 1266.1v12.6M1144.8 1271.3l12.4 12.4M1144.8 1283.7l12.4 -12.4M1144.7 1277.5h12.6M1151 1271.2v12.6M1150.8 1275.3l12.4 12.4M1150.8 1287.7l12.4 -12.4M1150.7 1281.5h12.6M1157 1275.2v12.6M1156.3 1278.8l12.4 12.4M1156.3 1291.2l12.4 -12.4M1156.2 1285h12.6M1162.5 1278.7v12.6M1161.3 1281.3l12.4 12.4M1161.3 1293.7l12.4 -12.4M1161.2 1287.5h12.6M1167.5 1281.2v12.6M1165.8 1283.3l12.4 12.4M1165.8 1295.7l12.4 -12.4M1165.7 1289.5h12.6M1172 1283.2v12.6M1169.8 1284.6l12.4 12.4M1169.8 1297l12.4 -12.4M1169.7 1290.8h12.6M1176 1284.5v12.6M1173.5 1285.4l12.4 12.4M1173.5 1297.8l12.4 -12.4M1173.4 1291.6h12.6M1179.7 1285.3v12.6"/>
<path class="m" d="M634.48 1080.37h12.4v12.4h-12.4zM675.83 1073.64h12.4v12.4h-12.4zM718.36 1070.4h12.4v12.4h-12.4zM761.23 1070.84h12.4v12.4h-12.4zM803.56 1074.93h12.4v12.4h-12.4zM844.51 1082.44h12.4v12.4h-12.4zM883.38 1092.95h12.4v12.4h-12.4zM919.6 1105.9h12.4v12.4h-12.4zM952.81 1120.69h12.4v12.4h-12.4zM982.81 1136.69h12.4v12.4h-12.4zM1009.57 1153.32h12.4v12.4h-12.4zM1033.19 1170.07h12.4v12.4h-12.4zM1053.86 1186.54h12.4v12.4h-12.4zM1071.81 1202.41h12.4v12.4h-12.4zM1087.33 1217.45h12.4v12.4h-12.4zM1100.69 1231.51h12.4v12.4h-12.4z"/>
<g><circle cx="640.68" cy="1086.57" r="1.5"/><circle cx="682.03" cy="1079.84" r="1.5"/><circle cx="724.56" cy="1076.6" r="1.5"/><circle cx="767.43" cy="1077.04" r="1.5"/><circle cx="809.76" cy="1081.13" r="1.5"/><circle cx="850.71" cy="1088.64" r="1.5"/><circle cx="889.58" cy="1099.15" r="1.5"/><circle cx="925.8" cy="1112.1" r="1.5"/><circle cx="959.01" cy="1126.89" r="1.5"/><circle cx="989.01" cy="1142.89" r="1.5"/><circle cx="1015.77" cy="1159.52" r="1.5"/><circle cx="1039.39" cy="1176.27" r="1.5"/><circle cx="1060.06" cy="1192.74" r="1.5"/><circle cx="1078.01" cy="1208.61" r="1.5"/><circle cx="1093.53" cy="1223.65" r="1.5"/><circle cx="1106.89" cy="1237.71" r="1.5"/></g>
<g><circle cx="639.68" cy="1087.43" r="6.4"/><circle cx="680.93" cy="1081.45" r="6.4"/><circle cx="722.96" cy="1079.03" r="6.4"/><circle cx="765.53" cy="1079.82" r="6.4"/><circle cx="809.06" cy="1083.95" r="6.4"/><circle cx="848.11" cy="1090.81" r="6.4"/><circle cx="887.58" cy="1101.02" r="6.4"/><circle cx="924.3" cy="1113.79" r="6.4"/><circle cx="958.01" cy="1128.38" r="6.4"/><circle cx="988.51" cy="1144.03" r="6.4"/><circle cx="1015.77" cy="1160.39" r="6.4"/><circle cx="1039.79" cy="1177.15" r="6.4"/><circle cx="1060.86" cy="1194.13" r="6.4"/><circle cx="1079.21" cy="1211.12" r="6.4"/><circle cx="1095.13" cy="1227.99" r="6.4"/><circle cx="1108.89" cy="1244.6" r="6.4"/></g>
<path class="m" d="M624.18 1085.28l12.4 12.4M624.18 1097.68l12.4 -12.4M667.43 1074.82l12.4 12.4M667.43 1087.22l12.4 -12.4M712.26 1066.51l12.4 12.4M712.26 1078.91l12.4 -12.4M760.03 1065.96l12.4 12.4M760.03 1078.36l12.4 -12.4M807.36 1072.06l12.4 12.4M807.36 1084.46l12.4 -12.4M849.51 1082.69l12.4 12.4M849.51 1095.09l12.4 -12.4M887.88 1096.55l12.4 12.4M887.88 1108.95l12.4 -12.4M922.3 1112.45l12.4 12.4M922.3 1124.85l12.4 -12.4M950.71 1127.6l12.4 12.4M950.71 1140l12.4 -12.4M978.41 1141.82l12.4 12.4M978.41 1154.22l12.4 -12.4M1003.97 1155.04l12.4 12.4M1003.97 1167.44l12.4 -12.4M1028.89 1169.36l12.4 12.4M1028.89 1181.76l12.4 -12.4M1050.86 1184.28l12.4 12.4M1050.86 1196.68l12.4 -12.4M1070.48 1200.04l12.4 12.4M1070.48 1212.44l12.4 -12.4M1087.66 1216.24l12.4 12.4M1087.66 1228.64l12.4 -12.4M1102.69 1232.74l12.4 12.4M1102.69 1245.14l12.4 -12.4"/>
<path class="l" stroke-dasharray="12.6 3.3 2.4 3.4" d="M323.18 1308.73C323.95 1307.52 326.24 1303.86 327.8 1301.45C329.37 1299.03 330.95 1296.63 332.56 1294.25C334.16 1291.86 335.79 1289.48 337.44 1287.13C339.08 1284.77 340.75 1282.42 342.44 1280.09C344.13 1277.76 345.84 1275.45 347.57 1273.15C349.3 1270.84 351.05 1268.56 352.82 1266.29C354.58 1264.02 356.37 1261.76 358.18 1259.52C359.99 1257.29 361.82 1255.06 363.67 1252.85C365.51 1250.65 367.38 1248.45 369.27 1246.28C371.15 1244.1 373.06 1241.95 374.98 1239.8C376.9 1237.66 378.85 1235.54 380.81 1233.43C382.77 1231.32 384.75 1229.23 386.75 1227.15C388.74 1225.08 390.76 1223.02 392.79 1220.98C394.83 1218.94 396.88 1216.92 398.95 1214.92C401.02 1212.91 403.1 1210.93 405.21 1208.96C407.31 1206.99 409.43 1205.04 411.57 1203.11C413.71 1201.18 415.86 1199.27 418.04 1197.38C420.21 1195.49 422.4 1193.61 424.6 1191.76C426.81 1189.9 429.03 1188.06 431.26 1186.25C433.5 1184.43 435.75 1182.63 438.02 1180.86C440.29 1179.08 442.58 1177.32 444.88 1175.59C447.18 1173.85 449.49 1172.13 451.82 1170.43C454.15 1168.74 456.5 1167.06 458.86 1165.41C461.22 1163.75 463.59 1162.11 465.98 1160.5C468.37 1158.89 470.77 1157.29 473.19 1155.72C475.6 1154.15 478.04 1152.6 480.48 1151.07C482.92 1149.54 485.38 1148.03 487.85 1146.54C490.33 1145.06 492.81 1143.59 495.31 1142.15C497.8 1140.71 500.32 1139.29 502.84 1137.89C505.36 1136.49 507.9 1135.12 510.44 1133.76C512.99 1132.41 515.55 1131.08 518.12 1129.77C520.69 1128.46 523.27 1127.17 525.87 1125.91C528.46 1124.65 531.07 1123.41 533.68 1122.19C536.3 1120.97 538.92 1119.78 541.56 1118.61C544.2 1117.44 546.85 1116.29 549.5 1115.17C552.16 1114.04 554.83 1112.94 557.51 1111.87C560.18 1110.79 562.87 1109.74 565.57 1108.71C568.26 1107.68 570.97 1106.67 573.68 1105.69C576.39 1104.71 579.12 1103.75 581.85 1102.82C584.58 1101.88 587.32 1100.97 590.06 1100.09C592.81 1099.2 595.57 1098.34 598.33 1097.51C601.09 1096.67 603.86 1095.86 606.64 1095.07C609.41 1094.28 612.2 1093.52 614.99 1092.78C617.78 1092.04 620.57 1091.32 623.38 1090.63C626.18 1089.94 628.99 1089.28 631.8 1088.64C634.62 1088 637.44 1087.38 640.26 1086.79C643.09 1086.2 645.92 1085.64 648.76 1085.09C651.59 1084.55 654.43 1084.04 657.28 1083.55C660.12 1083.06 662.97 1082.59 665.82 1082.15C668.68 1081.71 671.53 1081.29 674.39 1080.9C677.26 1080.51 680.12 1080.15 682.99 1079.81C685.85 1079.46 688.72 1079.15 691.6 1078.86C694.47 1078.57 697.34 1078.31 700.22 1078.07C703.1 1077.83 705.98 1077.61 708.86 1077.42C711.74 1077.23 714.62 1077.07 717.5 1076.93C720.39 1076.79 723.27 1076.68 726.16 1076.59C729.05 1076.5 731.93 1076.44 734.82 1076.41C737.71 1076.37 740.59 1076.36 743.48 1076.37C746.37 1076.38 749.26 1076.42 752.14 1076.49C755.03 1076.55 757.91 1076.64 760.8 1076.75C763.68 1076.87 766.57 1077.01 769.45 1077.17C772.33 1077.34 775.22 1077.53 778.09 1077.74C780.97 1077.96 783.85 1078.2 786.73 1078.47C789.6 1078.73 792.47 1079.02 795.34 1079.34C798.21 1079.65 801.08 1079.99 803.95 1080.36C806.81 1080.73 809.67 1081.12 812.53 1081.53C815.39 1081.95 818.24 1082.39 821.09 1082.86C823.94 1083.32 826.78 1083.81 829.63 1084.33C832.47 1084.85 835.3 1085.39 838.13 1085.95C840.97 1086.52 843.79 1087.11 846.61 1087.72C849.44 1088.34 852.25 1088.98 855.06 1089.64C857.87 1090.3 860.68 1090.99 863.47 1091.71C866.27 1092.42 869.06 1093.16 871.85 1093.92C874.63 1094.68 877.41 1095.47 880.19 1096.28C882.96 1097.09 885.72 1097.92 888.48 1098.78C891.23 1099.64 893.98 1100.52 896.73 1101.43C899.47 1102.33 902.2 1103.27 904.93 1104.22C907.65 1105.17 910.37 1106.15 913.08 1107.16C915.78 1108.16 918.48 1109.18 921.17 1110.23C923.86 1111.28 926.55 1112.36 929.22 1113.45C931.89 1114.55 934.55 1115.67 937.2 1116.81C939.85 1117.95 942.5 1119.12 945.13 1120.31C947.76 1121.5 950.38 1122.71 952.99 1123.95C955.6 1125.18 958.2 1126.44 960.79 1127.72C963.38 1129 965.95 1130.3 968.52 1131.63C971.09 1132.95 973.64 1134.3 976.18 1135.67C978.72 1137.04 981.25 1138.44 983.77 1139.85C986.29 1141.26 988.79 1142.7 991.29 1144.16C993.78 1145.62 996.26 1147.1 998.72 1148.6C1001.19 1150.1 1003.64 1151.63 1006.08 1153.17C1008.52 1154.72 1010.95 1156.28 1013.36 1157.87C1015.77 1159.46 1018.17 1161.07 1020.56 1162.69C1022.94 1164.32 1025.31 1165.97 1027.66 1167.65C1030.02 1169.32 1032.36 1171.01 1034.69 1172.72C1037.01 1174.43 1039.32 1176.16 1041.62 1177.92C1043.91 1179.67 1046.19 1181.44 1048.46 1183.23C1050.72 1185.03 1052.97 1186.84 1055.2 1188.67C1057.43 1190.5 1059.65 1192.35 1061.85 1194.22C1064.05 1196.09 1066.23 1197.98 1068.4 1199.89C1070.57 1201.8 1072.72 1203.73 1074.85 1205.68C1076.98 1207.62 1079.1 1209.59 1081.2 1211.57C1083.29 1213.56 1085.38 1215.56 1087.44 1217.58C1089.5 1219.6 1091.55 1221.64 1093.57 1223.69C1095.6 1225.75 1097.61 1227.82 1099.6 1229.91C1101.59 1232 1103.57 1234.11 1105.52 1236.24C1107.47 1238.36 1109.41 1240.51 1111.33 1242.67C1113.24 1244.83 1115.14 1247 1117.02 1249.2C1118.9 1251.39 1120.76 1253.6 1122.6 1255.82C1124.43 1258.05 1126.25 1260.29 1128.05 1262.55C1129.85 1264.8 1131.63 1267.08 1133.39 1269.37C1135.15 1271.66 1136.89 1273.96 1138.61 1276.28C1140.33 1278.6 1142.03 1280.93 1143.71 1283.28C1145.39 1285.63 1147.05 1287.99 1148.69 1290.37C1150.32 1292.75 1151.94 1295.14 1153.53 1297.55C1155.13 1299.95 1156.7 1302.37 1158.26 1304.81C1159.81 1307.24 1161.34 1309.69 1162.85 1312.15C1164.36 1314.61 1165.85 1317.08 1167.31 1319.57C1168.78 1322.06 1170.22 1324.56 1171.64 1327.07C1173.07 1329.58 1174.47 1332.1 1175.84 1334.64C1177.22 1337.18 1178.58 1339.73 1179.91 1342.29C1181.24 1344.85 1182.55 1347.42 1183.84 1350C1185.13 1352.58 1187 1356.49 1187.63 1357.78"/>
<path class="l" d="M315.43 1315.72C316.06 1314.41 317.88 1310.45 319.21 1307.88C320.54 1305.3 321.96 1302.77 323.41 1300.27C324.87 1297.77 326.39 1295.3 327.94 1292.86C329.5 1290.42 331.11 1288.01 332.73 1285.61C334.36 1283.21 336.03 1280.85 337.7 1278.48C339.37 1276.12 341.07 1273.77 342.77 1271.43C344.47 1269.08 346.17 1266.73 347.89 1264.39C349.6 1262.06 351.31 1259.71 353.06 1257.4C354.81 1255.08 356.57 1252.77 358.37 1250.5C360.18 1248.23 362.02 1245.98 363.9 1243.77C365.78 1241.55 367.69 1239.37 369.64 1237.22C371.59 1235.07 373.57 1232.95 375.58 1230.85C377.59 1228.76 379.64 1226.7 381.7 1224.66C383.77 1222.62 385.86 1220.61 387.97 1218.62C390.09 1216.63 392.22 1214.67 394.38 1212.73C396.53 1210.79 398.71 1208.87 400.9 1206.97C403.09 1205.07 405.3 1203.2 407.52 1201.33C409.74 1199.47 411.97 1197.63 414.21 1195.8C416.46 1193.97 418.71 1192.16 420.98 1190.36C423.24 1188.55 425.51 1186.76 427.79 1184.98C430.06 1183.2 432.35 1181.43 434.63 1179.66C436.92 1177.89 439.21 1176.13 441.5 1174.37C443.79 1172.61 446.08 1170.84 448.39 1169.1C450.69 1167.35 453 1165.6 455.33 1163.88C457.65 1162.16 459.99 1160.45 462.35 1158.78C464.72 1157.11 467.1 1155.46 469.51 1153.86C471.92 1152.25 474.35 1150.69 476.81 1149.16C479.27 1147.63 481.75 1146.14 484.25 1144.69C486.76 1143.23 489.28 1141.81 491.82 1140.43C494.36 1139.04 496.92 1137.69 499.49 1136.36C502.06 1135.03 504.65 1133.74 507.25 1132.47C509.85 1131.2 512.46 1129.96 515.08 1128.74C517.7 1127.53 520.34 1126.34 522.98 1125.17C525.62 1124 528.28 1122.86 530.94 1121.74C533.6 1120.62 536.27 1119.52 538.94 1118.44C541.62 1117.36 544.3 1116.31 546.99 1115.27C549.68 1114.23 552.37 1113.21 555.07 1112.2C557.77 1111.2 560.48 1110.22 563.19 1109.24C565.9 1108.27 568.62 1107.32 571.34 1106.37C574.06 1105.43 576.78 1104.5 579.51 1103.59C582.24 1102.68 584.97 1101.78 587.71 1100.91C590.45 1100.03 593.19 1099.17 595.95 1098.34C598.7 1097.5 601.46 1096.69 604.23 1095.9C606.99 1095.11 609.76 1094.35 612.55 1093.61C615.33 1092.88 618.11 1092.17 620.91 1091.49C623.7 1090.81 626.51 1090.17 629.31 1089.55C632.12 1088.93 634.94 1088.34 637.76 1087.79C640.58 1087.23 643.4 1086.7 646.23 1086.2C649.06 1085.69 651.9 1085.22 654.74 1084.78C657.58 1084.33 660.42 1083.91 663.27 1083.52C666.11 1083.13 668.96 1082.77 671.81 1082.43C674.67 1082.09 677.52 1081.78 680.38 1081.5C683.23 1081.21 686.09 1080.95 688.95 1080.72C691.81 1080.48 694.67 1080.27 697.53 1080.08C700.4 1079.9 703.26 1079.73 706.12 1079.59C708.99 1079.45 711.85 1079.34 714.72 1079.24C717.58 1079.15 720.44 1079.08 723.31 1079.03C726.17 1078.98 729.04 1078.95 731.9 1078.94C734.77 1078.93 737.63 1078.94 740.49 1078.98C743.35 1079.01 746.22 1079.06 749.08 1079.14C751.94 1079.22 754.8 1079.31 757.66 1079.43C760.52 1079.55 763.38 1079.69 766.23 1079.85C769.09 1080.01 771.95 1080.2 774.8 1080.4C777.66 1080.61 780.51 1080.83 783.36 1081.08C786.21 1081.33 789.06 1081.61 791.9 1081.9C794.75 1082.19 797.59 1082.51 800.43 1082.85C803.27 1083.19 806.11 1083.55 808.95 1083.94C811.78 1084.32 814.62 1084.73 817.45 1085.16C820.27 1085.59 823.1 1086.05 825.92 1086.53C828.74 1087 831.56 1087.51 834.38 1088.03C837.19 1088.56 840 1089.1 842.8 1089.68C845.61 1090.25 848.41 1090.84 851.2 1091.46C854 1092.08 856.79 1092.73 859.57 1093.4C862.36 1094.07 865.14 1094.76 867.91 1095.47C870.68 1096.19 873.45 1096.93 876.21 1097.7C878.97 1098.46 881.72 1099.25 884.47 1100.07C887.21 1100.88 889.95 1101.72 892.68 1102.59C895.41 1103.45 898.14 1104.34 900.85 1105.25C903.57 1106.16 906.28 1107.1 908.98 1108.06C911.68 1109.02 914.37 1110 917.05 1111C919.74 1112.01 922.41 1113.04 925.08 1114.09C927.75 1115.14 930.4 1116.21 933.05 1117.3C935.7 1118.4 938.34 1119.52 940.98 1120.65C943.61 1121.79 946.23 1122.95 948.84 1124.13C951.46 1125.31 954.06 1126.51 956.66 1127.73C959.25 1128.95 961.84 1130.19 964.42 1131.45C966.99 1132.71 969.56 1133.99 972.12 1135.29C974.67 1136.6 977.22 1137.92 979.76 1139.26C982.29 1140.61 984.82 1141.98 987.33 1143.36C989.85 1144.75 992.35 1146.16 994.84 1147.59C997.33 1149.03 999.8 1150.48 1002.27 1151.96C1004.73 1153.44 1007.18 1154.94 1009.62 1156.46C1012.05 1157.99 1014.48 1159.53 1016.88 1161.1C1019.29 1162.67 1021.68 1164.27 1024.06 1165.89C1026.44 1167.51 1028.8 1169.15 1031.14 1170.81C1033.48 1172.48 1035.81 1174.17 1038.12 1175.88C1040.43 1177.6 1042.72 1179.34 1044.99 1181.1C1047.26 1182.86 1049.51 1184.65 1051.75 1186.47C1053.98 1188.28 1056.19 1190.12 1058.38 1191.98C1060.57 1193.84 1062.74 1195.73 1064.89 1197.64C1067.04 1199.55 1069.16 1201.49 1071.27 1203.45C1073.37 1205.41 1075.45 1207.39 1077.5 1209.4C1079.55 1211.41 1081.58 1213.45 1083.59 1215.51C1085.59 1217.57 1087.57 1219.65 1089.52 1221.76C1091.47 1223.87 1093.39 1226 1095.28 1228.16C1097.18 1230.32 1099.04 1232.5 1100.88 1234.7C1102.72 1236.9 1104.52 1239.13 1106.32 1241.37C1108.12 1243.6 1109.89 1245.85 1111.66 1248.1C1113.43 1250.35 1115.19 1252.6 1116.96 1254.85C1118.73 1257.09 1120.5 1259.34 1122.29 1261.56C1124.08 1263.78 1125.88 1266 1127.72 1268.19C1129.56 1270.38 1131.44 1272.53 1133.32 1274.69C1135.2 1276.85 1137.17 1278.96 1139.02 1281.15C1140.87 1283.35 1142.7 1285.56 1144.41 1287.86C1146.11 1290.17 1147.7 1292.55 1149.23 1294.98C1150.76 1297.4 1152.19 1299.89 1153.58 1302.4C1154.97 1304.91 1156.29 1307.47 1157.58 1310.03C1158.88 1312.59 1160.12 1315.18 1161.36 1317.77C1162.59 1320.35 1163.82 1322.94 1165 1325.55C1166.19 1328.15 1167.36 1330.76 1168.46 1333.4C1169.57 1336.03 1170.65 1338.68 1171.65 1341.36C1172.66 1344.05 1173.61 1346.75 1174.48 1349.48C1175.34 1352.22 1176.44 1356.4 1176.84 1357.78"/>
<path class="l dt" d="M341.83 1328.98C342.05 1327.5 342.6 1323.03 343.15 1320.13C343.71 1317.23 344.39 1314.38 345.16 1311.57C345.92 1308.76 346.8 1306.01 347.75 1303.28C348.69 1300.56 349.74 1297.89 350.84 1295.25C351.94 1292.6 353.12 1290 354.34 1287.42C355.57 1284.84 356.86 1282.3 358.18 1279.77C359.5 1277.24 360.87 1274.74 362.27 1272.25C363.67 1269.76 365.1 1267.28 366.58 1264.83C368.05 1262.38 369.56 1259.95 371.12 1257.56C372.68 1255.16 374.29 1252.8 375.95 1250.47C377.61 1248.15 379.33 1245.87 381.09 1243.63C382.86 1241.39 384.68 1239.19 386.54 1237.03C388.4 1234.88 390.31 1232.76 392.26 1230.68C394.21 1228.6 396.21 1226.56 398.24 1224.56C400.27 1222.56 402.34 1220.6 404.44 1218.67C406.54 1216.75 408.67 1214.86 410.84 1213C413 1211.15 415.2 1209.33 417.42 1207.55C419.64 1205.76 421.89 1204.01 424.15 1202.28C426.42 1200.56 428.72 1198.87 431.03 1197.21C433.34 1195.54 435.67 1193.91 438.01 1192.3C440.36 1190.69 442.72 1189.11 445.1 1187.55C447.47 1185.99 449.86 1184.46 452.26 1182.94C454.66 1181.43 457.07 1179.94 459.49 1178.46C461.91 1176.99 464.34 1175.53 466.78 1174.09C469.21 1172.65 471.66 1171.23 474.11 1169.83C476.56 1168.42 479.01 1167.02 481.47 1165.64C483.93 1164.26 486.39 1162.89 488.86 1161.53C491.32 1160.16 493.79 1158.81 496.26 1157.46C498.73 1156.11 501.2 1154.77 503.67 1153.43C506.14 1152.09 508.61 1150.76 511.08 1149.42C513.55 1148.08 516.02 1146.74 518.49 1145.4C520.96 1144.06 523.43 1142.72 525.9 1141.37C528.37 1140.02 530.84 1138.66 533.3 1137.3C535.77 1135.94 538.24 1134.56 540.71 1133.2C543.19 1131.84 545.66 1130.47 548.15 1129.11C550.64 1127.76 553.13 1126.4 555.64 1125.07C558.15 1123.74 560.66 1122.42 563.19 1121.13C565.73 1119.83 568.27 1118.56 570.83 1117.31C573.39 1116.06 575.97 1114.85 578.56 1113.65C581.15 1112.45 583.75 1111.28 586.36 1110.11C588.97 1108.94 591.59 1107.8 594.22 1106.65C596.84 1105.5 599.48 1104.36 602.12 1103.21C604.75 1102.06 607.4 1100.9 610.05 1099.75C612.7 1098.59 615.34 1097.4 618.02 1096.27C620.69 1095.14 623.37 1094 626.08 1092.98C628.79 1091.95 631.53 1090.99 634.29 1090.12C637.05 1089.25 639.84 1088.49 642.63 1087.76C645.43 1087.03 648.25 1086.39 651.07 1085.76C653.89 1085.12 656.72 1084.55 659.55 1083.96C662.38 1083.37 665.22 1082.82 668.06 1082.22C670.89 1081.63 673.73 1081.02 676.57 1080.39C679.41 1079.76 682.24 1079.09 685.09 1078.45C687.94 1077.8 690.79 1077.14 693.65 1076.54C696.52 1075.95 699.39 1075.37 702.27 1074.87C705.15 1074.37 708.04 1073.93 710.94 1073.55C713.84 1073.17 716.75 1072.85 719.66 1072.58C722.57 1072.31 725.49 1072.1 728.4 1071.93C731.32 1071.76 734.24 1071.65 737.17 1071.57C740.09 1071.49 743.01 1071.47 745.94 1071.47C748.86 1071.48 751.79 1071.53 754.71 1071.61C757.63 1071.7 760.55 1071.82 763.47 1071.97C766.39 1072.13 769.31 1072.33 772.22 1072.56C775.14 1072.79 778.05 1073.06 780.95 1073.36C783.86 1073.66 786.76 1074 789.66 1074.37C792.56 1074.75 795.45 1075.15 798.34 1075.59C801.23 1076.03 804.11 1076.51 806.98 1077.02C809.86 1077.52 812.73 1078.07 815.59 1078.64C818.45 1079.21 821.3 1079.82 824.15 1080.45C826.99 1081.09 829.83 1081.76 832.66 1082.46C835.49 1083.15 838.31 1083.88 841.12 1084.64C843.93 1085.4 846.73 1086.19 849.53 1087.01C852.32 1087.82 855.1 1088.67 857.87 1089.54C860.64 1090.42 863.41 1091.32 866.16 1092.25C868.91 1093.17 871.65 1094.13 874.38 1095.11C877.1 1096.09 879.82 1097.1 882.53 1098.14C885.23 1099.17 887.93 1100.23 890.61 1101.31C893.29 1102.39 895.97 1103.5 898.62 1104.63C901.28 1105.77 903.93 1106.92 906.56 1108.1C909.2 1109.28 911.82 1110.48 914.43 1111.71C917.04 1112.94 919.63 1114.19 922.21 1115.46C924.79 1116.74 927.36 1118.04 929.91 1119.36C932.46 1120.68 935 1122.03 937.53 1123.38C940.07 1124.73 942.58 1126.1 945.1 1127.46C947.62 1128.82 950.13 1130.19 952.65 1131.54C955.17 1132.89 957.69 1134.23 960.22 1135.56C962.74 1136.88 965.28 1138.19 967.82 1139.5C970.35 1140.8 972.9 1142.09 975.44 1143.38C977.99 1144.68 980.54 1145.96 983.09 1147.25C985.65 1148.54 988.2 1149.83 990.76 1151.13C993.31 1152.43 995.86 1153.73 998.42 1155.05C1000.97 1156.36 1003.52 1157.69 1006.06 1159.03C1008.6 1160.38 1011.14 1161.73 1013.67 1163.12C1016.2 1164.5 1018.73 1165.9 1021.24 1167.32C1023.75 1168.75 1026.25 1170.19 1028.73 1171.67C1031.21 1173.15 1033.69 1174.66 1036.13 1176.2C1038.58 1177.74 1041.02 1179.31 1043.43 1180.91C1045.84 1182.51 1048.23 1184.15 1050.6 1185.81C1052.97 1187.48 1055.32 1189.18 1057.65 1190.9C1059.97 1192.63 1062.28 1194.39 1064.56 1196.19C1066.84 1197.98 1069.09 1199.8 1071.32 1201.66C1073.55 1203.51 1075.76 1205.4 1077.94 1207.32C1080.11 1209.23 1082.26 1211.18 1084.39 1213.16C1086.51 1215.14 1088.6 1217.15 1090.67 1219.19C1092.73 1221.23 1094.77 1223.3 1096.77 1225.39C1098.77 1227.49 1100.74 1229.62 1102.68 1231.78C1104.62 1233.94 1106.53 1236.13 1108.4 1238.34C1110.27 1240.56 1112.11 1242.81 1113.91 1245.08C1115.71 1247.35 1117.48 1249.65 1119.21 1251.98C1120.94 1254.31 1122.63 1256.66 1124.28 1259.05C1125.94 1261.43 1127.55 1263.84 1129.13 1266.27C1130.7 1268.7 1132.24 1271.16 1133.73 1273.64C1135.23 1276.12 1136.69 1278.63 1138.1 1281.16C1139.51 1283.69 1140.9 1286.23 1142.21 1288.82C1143.52 1291.4 1144.81 1293.99 1145.99 1296.65C1147.16 1299.31 1148.27 1302.01 1149.25 1304.77C1150.24 1307.53 1151.1 1310.36 1151.88 1313.22C1152.66 1316.08 1153.33 1319 1153.93 1321.93C1154.52 1324.87 1155.03 1327.84 1155.48 1330.82C1155.93 1333.79 1156.3 1336.8 1156.64 1339.8C1156.98 1342.79 1157.25 1345.8 1157.51 1348.79C1157.77 1351.79 1158.09 1356.26 1158.2 1357.75"/>
<rect class="l" x="246.45" y="1037.85" width="996.05" height="320.25"/>
<text><tspan x="197.86" y="1371.4" font-size="50.4" textLength="22.95" lengthAdjust="spacingAndGlyphs">0</tspan></text>
<text><tspan x="161.51" y="1282.44" font-size="50.4" textLength="59.02" lengthAdjust="spacingAndGlyphs">2.5</tspan></text>
<text><tspan x="196.85" y="1193.48" font-size="50.4" textLength="23.78" lengthAdjust="spacingAndGlyphs">5</tspan></text>
<text><tspan x="160.96" y="1104.52" font-size="50.4" textLength="58.85" lengthAdjust="spacingAndGlyphs">7.5</tspan></text>
<text><tspan x="329.53" y="1414.4" font-size="50.4" textLength="46.28" lengthAdjust="spacingAndGlyphs">75</tspan></text>
<text><tspan x="507.13" y="1414.4" font-size="50.4" textLength="47.18" lengthAdjust="spacingAndGlyphs">80</tspan></text>
<text><tspan x="685.55" y="1414.4" font-size="50.4" textLength="46.13" lengthAdjust="spacingAndGlyphs">85</tspan></text>
<text><tspan x="863.69" y="1414.4" font-size="50.4" textLength="46.22" lengthAdjust="spacingAndGlyphs">90</tspan></text>
<text><tspan x="1042.01" y="1414.4" font-size="50.4" textLength="45.59" lengthAdjust="spacingAndGlyphs">95</tspan></text>
<text><tspan x="1208.3" y="1414.4" font-size="50.4" textLength="68.28" lengthAdjust="spacingAndGlyphs">100</tspan></text>
<text id="xlabelC"><tspan x="575.7" y="1479.9" font-size="50.4" textLength="54.79" lengthAdjust="spacingAndGlyphs">Re</tspan> <tspan x="640.03" y="1483.1" font-size="56.45" textLength="11.03" lengthAdjust="spacingAndGlyphs">[</tspan><tspan x="653.56" y="1479.9" font-size="50.4" textLength="30.47" lengthAdjust="spacingAndGlyphs" class="i">Z</tspan> <tspan x="695.98" y="1479.4" font-size="50.4" textLength="13.35" lengthAdjust="spacingAndGlyphs">(</tspan><tspan x="711.08" y="1479.9" font-size="45.86" textLength="32.59" lengthAdjust="spacingAndGlyphs" class="i">ω</tspan><tspan x="744.16" y="1479.4" font-size="50.4" textLength="13.52" lengthAdjust="spacingAndGlyphs">)</tspan><tspan x="758.88" y="1483.1" font-size="56.45" textLength="11.21" lengthAdjust="spacingAndGlyphs">]</tspan> <tspan x="788.46" y="1479.9" font-size="50.4" textLength="36.14" lengthAdjust="spacingAndGlyphs">in</tspan> <tspan x="841.92" y="1479.9" font-size="50.4" textLength="71.3" lengthAdjust="spacingAndGlyphs">mΩ</tspan></text>
<text id="ylabelC" transform="translate(36.3 1374.85) rotate(-90)"><tspan x="-2.33" y="4" font-size="50.4" textLength="34.51" lengthAdjust="spacingAndGlyphs">−</tspan><tspan x="32.88" y="0" font-size="50.4" textLength="56.02" lengthAdjust="spacingAndGlyphs">Im</tspan> <tspan x="98.63" y="3.2" font-size="56.45" textLength="11.03" lengthAdjust="spacingAndGlyphs">[</tspan><tspan x="112.16" y="0" font-size="50.4" textLength="30.47" lengthAdjust="spacingAndGlyphs" class="i">Z</tspan> <tspan x="154.58" y="-0.5" font-size="50.4" textLength="13.35" lengthAdjust="spacingAndGlyphs">(</tspan><tspan x="169.68" y="0" font-size="45.86" textLength="32.59" lengthAdjust="spacingAndGlyphs" class="i">ω</tspan><tspan x="202.76" y="-0.5" font-size="50.4" textLength="13.52" lengthAdjust="spacingAndGlyphs">)</tspan><tspan x="217.48" y="3.2" font-size="56.45" textLength="11.21" lengthAdjust="spacingAndGlyphs">]</tspan> <tspan x="247.06" y="0" font-size="50.4" textLength="36.14" lengthAdjust="spacingAndGlyphs">in</tspan> <tspan x="300.52" y="0" font-size="50.4" textLength="71.3" lengthAdjust="spacingAndGlyphs">mΩ</tspan></text>
<g id="legendC">
<text><tspan x="1341.44" y="1072.15" font-size="50.4" textLength="115.87" lengthAdjust="spacingAndGlyphs">cell C</tspan></text>
<text><tspan x="1329.08" y="1115.55" font-size="50.4" textLength="128.84" lengthAdjust="spacingAndGlyphs">ZARC</tspan></text>
<text><tspan x="1331.22" y="1158.95" font-size="50.4" textLength="125.02" lengthAdjust="spacingAndGlyphs">ZAPP</tspan></text>
<text><tspan x="1360.62" y="1202.65" font-size="50.4" textLength="26.09" lengthAdjust="spacingAndGlyphs">Z</tspan><tspan x="1388" y="1209.35" font-size="34" textLength="65.41" lengthAdjust="spacingAndGlyphs" class="i">3RC</tspan></text>
<text><tspan x="1329.08" y="1245.75" font-size="50.4" textLength="128.84" lengthAdjust="spacingAndGlyphs">ZARC</tspan></text>
<text><tspan x="1331.22" y="1289.15" font-size="50.4" textLength="125.02" lengthAdjust="spacingAndGlyphs">ZAPP</tspan></text>
<text><tspan x="1360.62" y="1332.85" font-size="50.4" textLength="26.09" lengthAdjust="spacingAndGlyphs">Z</tspan><tspan x="1388" y="1339.55" font-size="34" textLength="65.41" lengthAdjust="spacingAndGlyphs" class="i">3RC</tspan></text>
<path class="m" d="M1535.4 1053.65l12.4 12.4M1535.4 1066.05l12.4 -12.4M1535.3 1059.85h12.6M1541.6 1053.55v12.6M1535.4 1096.95h12.4v12.4h-12.4zM1535.4 1183.55l12.4 12.4M1535.4 1195.95l12.4 -12.4"/>
<circle cx="1541.6" cy="1103.15" r="1.5"/><circle cx="1541.6" cy="1146.45" r="6.4"/>
<path class="l dd" d="M1483 1233.05H1601"/>
<path class="l" d="M1483 1276.35H1601"/>
<path class="l dt" d="M1483 1319.65H1601"/>
</g>
</g>
</svg></body></html>
